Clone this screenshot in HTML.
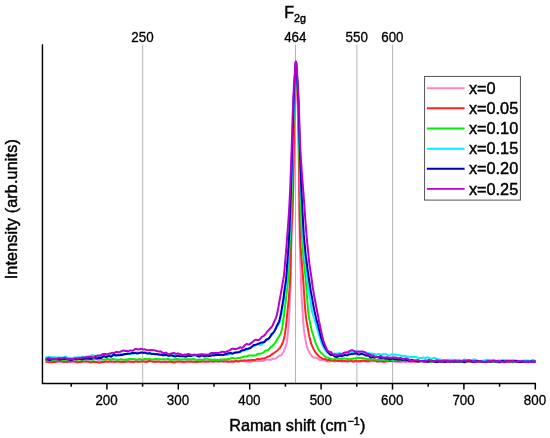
<!DOCTYPE html>
<html><head><meta charset="utf-8"><title>Raman spectra</title>
<style>
html,body{margin:0;padding:0;background:#fff;}
body{width:550px;height:438px;overflow:hidden;}
svg{display:block;}
text{font-family:"Liberation Sans",Arial,sans-serif;fill:#000;stroke:#000;stroke-width:0.3px;}
.t{font-size:14px;text-anchor:middle;}
.l{font-size:16px;stroke-width:0.45px;}
</style></head><body>
<svg width="550" height="438" viewBox="0 0 550 438">
<rect width="550" height="438" fill="#fff"/>

<line x1="142.7" y1="44.7" x2="142.7" y2="383.4" stroke="#b4b4b4" stroke-width="1"/>
<line x1="295.5" y1="44.7" x2="295.5" y2="383.4" stroke="#b4b4b4" stroke-width="1"/>
<line x1="356.9" y1="44.7" x2="356.9" y2="383.4" stroke="#b4b4b4" stroke-width="1"/>
<line x1="392.6" y1="44.7" x2="392.6" y2="383.4" stroke="#b4b4b4" stroke-width="1"/>
<path d="M45.5 361.1 L46.2 361.2 L46.9 361.4 L47.6 361.5 L48.4 361.4 L49.1 361.2 L49.8 361.2 L50.5 361.4 L51.2 361.5 L51.9 361.4 L52.6 361.3 L53.4 361.4 L54.1 361.6 L54.8 361.8 L55.5 361.7 L56.2 361.6 L56.9 361.6 L57.6 361.7 L58.4 361.9 L59.1 361.9 L59.8 361.9 L60.5 361.7 L61.2 361.6 L61.9 361.4 L62.6 361.4 L63.3 361.3 L64.1 361.3 L64.8 361.3 L65.5 361.4 L66.2 361.4 L66.9 361.5 L67.6 361.6 L68.3 361.6 L69.1 361.7 L69.8 361.5 L70.5 361.5 L71.2 361.4 L71.9 361.3 L72.6 361.4 L73.3 361.5 L74.1 361.6 L74.8 361.5 L75.5 361.4 L76.2 361.2 L76.9 361.1 L77.6 361.2 L78.3 361.5 L79.1 361.8 L79.8 361.9 L80.5 361.8 L81.2 361.8 L81.9 361.7 L82.6 361.6 L83.3 361.5 L84.1 361.4 L84.8 361.4 L85.5 361.4 L86.2 361.5 L86.9 361.5 L87.6 361.7 L88.3 361.7 L89.1 361.6 L89.8 361.6 L90.5 361.5 L91.2 361.4 L91.9 361.5 L92.6 361.6 L93.3 361.7 L94.1 361.8 L94.8 361.9 L95.5 362.0 L96.2 361.9 L96.9 361.7 L97.6 361.3 L98.3 361.1 L99.0 361.0 L99.8 361.2 L100.5 361.4 L101.2 361.6 L101.9 361.7 L102.6 361.5 L103.3 361.4 L104.0 361.3 L104.8 361.4 L105.5 361.4 L106.2 361.3 L106.9 361.4 L107.6 361.5 L108.3 361.6 L109.0 361.5 L109.8 361.6 L110.5 361.5 L111.2 361.6 L111.9 361.6 L112.6 361.7 L113.3 361.7 L114.0 361.7 L114.8 361.4 L115.5 361.2 L116.2 361.3 L116.9 361.5 L117.6 361.7 L118.3 361.9 L119.0 362.1 L119.8 362.2 L120.5 362.0 L121.2 361.6 L121.9 361.2 L122.6 361.1 L123.3 361.3 L124.0 361.5 L124.8 361.7 L125.5 361.7 L126.2 361.7 L126.9 361.6 L127.6 361.4 L128.3 361.3 L129.0 361.5 L129.8 361.6 L130.5 361.7 L131.2 361.5 L131.9 361.4 L132.6 361.4 L133.3 361.6 L134.0 361.8 L134.7 361.7 L135.5 361.6 L136.2 361.5 L136.9 361.5 L137.6 361.5 L138.3 361.6 L139.0 361.8 L139.7 361.8 L140.5 361.6 L141.2 361.3 L141.9 361.3 L142.6 361.3 L143.3 361.5 L144.0 361.5 L144.7 361.4 L145.5 361.2 L146.2 361.3 L146.9 361.4 L147.6 361.5 L148.3 361.6 L149.0 361.6 L149.7 361.6 L150.5 361.4 L151.2 361.2 L151.9 361.1 L152.6 361.3 L153.3 361.5 L154.0 361.6 L154.7 361.5 L155.5 361.2 L156.2 361.2 L156.9 361.2 L157.6 361.3 L158.3 361.4 L159.0 361.6 L159.7 361.9 L160.5 362.1 L161.2 362.2 L161.9 362.1 L162.6 361.9 L163.3 361.8 L164.0 361.6 L164.7 361.6 L165.5 361.4 L166.2 361.4 L166.9 361.4 L167.6 361.6 L168.3 361.5 L169.0 361.5 L169.7 361.3 L170.4 361.3 L171.2 361.4 L171.9 361.6 L172.6 361.6 L173.3 361.5 L174.0 361.2 L174.7 361.0 L175.4 361.1 L176.2 361.3 L176.9 361.5 L177.6 361.4 L178.3 361.2 L179.0 361.0 L179.7 360.9 L180.4 360.9 L181.2 361.1 L181.9 361.4 L182.6 361.6 L183.3 361.7 L184.0 361.8 L184.7 361.9 L185.4 361.9 L186.2 361.8 L186.9 361.5 L187.6 361.4 L188.3 361.3 L189.0 361.2 L189.7 361.0 L190.4 360.8 L191.2 360.9 L191.9 361.2 L192.6 361.6 L193.3 361.9 L194.0 361.8 L194.7 361.5 L195.4 361.2 L196.2 361.2 L196.9 361.3 L197.6 361.4 L198.3 361.3 L199.0 361.1 L199.7 361.1 L200.4 361.0 L201.2 361.2 L201.9 361.5 L202.6 361.6 L203.3 361.6 L204.0 361.4 L204.7 361.4 L205.4 361.5 L206.1 361.6 L206.9 361.5 L207.6 361.5 L208.3 361.5 L209.0 361.5 L209.7 361.3 L210.4 361.2 L211.1 361.3 L211.9 361.5 L212.6 361.7 L213.3 361.8 L214.0 362.0 L214.7 361.9 L215.4 361.7 L216.1 361.4 L216.9 361.2 L217.6 361.2 L218.3 361.2 L219.0 361.3 L219.7 361.4 L220.4 361.4 L221.1 361.4 L221.9 361.5 L222.6 361.7 L223.3 361.9 L224.0 361.8 L224.7 361.6 L225.4 361.4 L226.1 361.4 L226.9 361.6 L227.6 361.9 L228.3 362.0 L229.0 362.1 L229.7 361.9 L230.4 361.7 L231.1 361.6 L231.9 361.6 L232.6 361.7 L233.3 361.8 L234.0 361.9 L234.7 361.9 L235.4 361.9 L236.1 361.6 L236.9 361.4 L237.6 361.3 L238.3 361.5 L239.0 361.5 L239.7 361.4 L240.4 361.2 L241.1 361.1 L241.8 361.1 L242.6 361.2 L243.3 361.3 L244.0 361.4 L244.7 361.5 L245.4 361.6 L246.1 361.6 L246.8 361.6 L247.6 361.6 L248.3 361.7 L249.0 361.8 L249.7 361.7 L250.4 361.7 L251.1 361.5 L251.8 361.5 L252.6 361.2 L253.3 361.1 L254.0 360.9 L254.7 361.1 L255.4 361.0 L256.1 361.1 L256.8 361.1 L257.6 361.2 L258.3 361.1 L259.0 361.0 L259.7 360.9 L260.4 360.9 L261.1 360.9 L261.8 361.0 L262.6 361.0 L263.3 360.9 L264.0 360.7 L264.7 360.3 L265.4 360.0 L266.1 359.8 L266.8 359.6 L267.6 359.6 L268.3 359.6 L269.0 359.7 L269.7 359.9 L270.4 359.9 L271.1 359.7 L271.8 359.2 L272.6 358.9 L273.3 358.8 L274.0 358.8 L274.7 358.7 L275.4 358.6 L276.1 358.3 L276.8 357.8 L277.5 357.1 L278.3 356.4 L279.0 356.0 L279.7 355.6 L280.0 355.6 L280.4 355.5 L280.7 355.5 L281.1 355.2 L281.4 355.0 L281.8 354.4 L282.1 354.0 L282.5 353.3 L282.8 352.8 L283.2 352.2 L283.5 351.8 L283.9 351.1 L284.2 350.2 L284.6 349.3 L284.9 348.4 L285.3 347.5 L285.6 346.5 L286.0 345.6 L286.3 344.4 L286.7 342.9 L287.0 340.8 L287.4 338.2 L287.7 335.0 L288.1 331.5 L288.4 327.4 L288.8 322.6 L289.1 317.0 L289.5 309.6 L289.8 300.8 L290.2 292.6 L290.5 283.6 L290.9 268.2 L291.2 249.3 L291.6 235.1 L291.9 226.0 L292.3 218.7 L292.6 211.4 L293.0 201.6 L293.3 186.6 L293.7 167.0 L294.0 145.7 L294.4 124.9 L294.7 105.4 L295.1 91.9 L295.4 80.8 L295.8 70.2 L296.1 63.3 L296.5 69.6 L296.8 79.5 L297.2 89.1 L297.5 100.8 L297.9 113.3 L298.2 125.8 L298.6 142.9 L298.9 172.6 L299.3 204.2 L299.6 234.1 L300.0 249.7 L300.3 260.2 L300.7 272.3 L301.0 282.8 L301.4 291.6 L301.7 298.9 L302.1 304.9 L302.4 309.8 L302.8 314.6 L303.1 319.9 L303.5 325.0 L303.8 328.7 L304.2 331.6 L304.5 334.0 L304.9 336.3 L305.2 338.4 L305.6 340.5 L305.9 342.3 L306.3 343.9 L306.6 345.2 L307.0 346.4 L307.3 347.6 L307.7 348.8 L308.0 349.7 L308.4 350.4 L308.7 350.8 L309.1 351.6 L309.4 352.2 L309.8 353.2 L310.1 353.8 L310.5 354.3 L310.8 354.5 L311.2 355.0 L311.5 355.5 L311.9 356.1 L312.0 356.4 L312.7 357.0 L313.4 357.3 L314.1 357.4 L314.9 357.6 L315.6 357.8 L316.3 358.0 L317.0 358.2 L317.7 358.5 L318.4 358.9 L319.1 359.4 L319.9 359.9 L320.6 360.0 L321.3 360.1 L322.0 359.9 L322.7 360.0 L323.4 360.2 L324.1 360.4 L324.9 360.7 L325.6 361.0 L326.3 361.2 L327.0 361.3 L327.7 361.2 L328.4 361.2 L329.1 361.3 L329.8 361.4 L330.6 361.4 L331.3 361.2 L332.0 361.1 L332.7 361.1 L333.4 361.4 L334.1 361.6 L334.8 361.6 L335.6 361.4 L336.3 361.0 L337.0 361.0 L337.7 361.0 L338.4 361.2 L339.1 361.2 L339.8 361.0 L340.6 361.1 L341.3 361.3 L342.0 361.7 L342.7 361.6 L343.4 361.6 L344.1 361.5 L344.8 361.4 L345.6 361.2 L346.3 361.1 L347.0 361.3 L347.7 361.5 L348.4 361.4 L349.1 361.3 L349.8 361.1 L350.6 361.2 L351.3 361.3 L352.0 361.3 L352.7 361.4 L353.4 361.4 L354.1 361.5 L354.8 361.6 L355.6 361.7 L356.3 361.6 L357.0 361.5 L357.7 361.4 L358.4 361.5 L359.1 361.6 L359.8 361.7 L360.6 361.7 L361.3 361.6 L362.0 361.5 L362.7 361.4 L363.4 361.3 L364.1 361.3 L364.8 361.4 L365.5 361.6 L366.3 361.5 L367.0 361.5 L367.7 361.4 L368.4 361.4 L369.1 361.6 L369.8 361.5 L370.5 361.4 L371.3 361.2 L372.0 361.3 L372.7 361.2 L373.4 361.3 L374.1 361.1 L374.8 361.2 L375.5 361.1 L376.3 361.5 L377.0 361.6 L377.7 361.6 L378.4 361.4 L379.1 361.2 L379.8 361.2 L380.5 361.3 L381.3 361.5 L382.0 361.5 L382.7 361.7 L383.4 361.6 L384.1 361.5 L384.8 361.3 L385.5 361.4 L386.3 361.5 L387.0 361.6 L387.7 361.4 L388.4 361.4 L389.1 361.4 L389.8 361.4 L390.5 361.2 L391.3 361.1 L392.0 361.2 L392.7 361.3 L393.4 361.6 L394.1 361.7 L394.8 361.9 L395.5 362.1 L396.3 362.1 L397.0 362.1 L397.7 361.9 L398.4 361.8 L399.1 361.5 L399.8 361.5 L400.5 361.6 L401.2 361.8 L402.0 361.6 L402.7 361.4 L403.4 361.3 L404.1 361.3 L404.8 361.4 L405.5 361.6 L406.2 361.7 L407.0 361.6 L407.7 361.4 L408.4 361.5 L409.1 361.6 L409.8 361.8 L410.5 361.7 L411.2 361.7 L412.0 361.7 L412.7 361.8 L413.4 361.7 L414.1 361.6 L414.8 361.7 L415.5 361.8 L416.2 361.8 L417.0 361.4 L417.7 361.3 L418.4 361.2 L419.1 361.2 L419.8 361.2 L420.5 361.3 L421.2 361.5 L422.0 361.6 L422.7 361.7 L423.4 361.7 L424.1 361.8 L424.8 361.8 L425.5 361.8 L426.2 361.8 L427.0 361.7 L427.7 361.7 L428.4 361.6 L429.1 361.5 L429.8 361.3 L430.5 361.3 L431.2 361.5 L432.0 361.9 L432.7 362.1 L433.4 362.2 L434.1 361.9 L434.8 361.8 L435.5 361.6 L436.2 361.6 L436.9 361.6 L437.7 361.6 L438.4 361.6 L439.1 361.6 L439.8 361.6 L440.5 361.6 L441.2 361.6 L441.9 361.7 L442.7 361.7 L443.4 361.6 L444.1 361.6 L444.8 361.5 L445.5 361.5 L446.2 361.4 L446.9 361.3 L447.7 361.4 L448.4 361.5 L449.1 361.6 L449.8 361.6 L450.5 361.7 L451.2 361.9 L451.9 362.0 L452.7 362.0 L453.4 361.8 L454.1 361.8 L454.8 361.8 L455.5 361.9 L456.2 362.0 L456.9 361.9 L457.7 361.8 L458.4 361.5 L459.1 361.6 L459.8 361.7 L460.5 361.9 L461.2 361.6 L461.9 361.3 L462.7 361.1 L463.4 361.3 L464.1 361.4 L464.8 361.5 L465.5 361.3 L466.2 361.4 L466.9 361.4 L467.7 361.6 L468.4 361.7 L469.1 361.8 L469.8 361.7 L470.5 361.8 L471.2 361.6 L471.9 361.4 L472.6 361.2 L473.4 361.1 L474.1 361.3 L474.8 361.3 L475.5 361.3 L476.2 361.3 L476.9 361.3 L477.6 361.2 L478.4 361.2 L479.1 361.3 L479.8 361.5 L480.5 361.6 L481.2 361.8 L481.9 361.9 L482.6 361.9 L483.4 361.6 L484.1 361.3 L484.8 361.3 L485.5 361.5 L486.2 361.7 L486.9 361.7 L487.6 361.6 L488.4 361.6 L489.1 361.6 L489.8 361.7 L490.5 361.8 L491.2 361.9 L491.9 361.9 L492.6 361.9 L493.4 361.8 L494.1 361.8 L494.8 361.7 L495.5 361.7 L496.2 361.6 L496.9 361.6 L497.6 361.5 L498.4 361.4 L499.1 361.4 L499.8 361.2 L500.5 361.3 L501.2 361.1 L501.9 361.3 L502.6 361.5 L503.4 361.7 L504.1 361.7 L504.8 361.7 L505.5 361.9 L506.2 362.1 L506.9 362.0 L507.6 361.7 L508.3 361.4 L509.1 361.5 L509.8 361.8 L510.5 362.1 L511.2 361.9 L511.9 361.7 L512.6 361.6 L513.3 361.6 L514.1 361.5 L514.8 361.4 L515.5 361.4 L516.2 361.5 L516.9 361.5 L517.6 361.6 L518.3 361.6 L519.1 361.7 L519.8 361.6 L520.5 361.5 L521.2 361.4 L521.9 361.4 L522.6 361.2 L523.3 361.1 L524.1 361.1 L524.8 361.3 L525.5 361.6 L526.2 361.6 L526.9 361.6 L527.6 361.5 L528.3 361.4 L529.1 361.5 L529.8 361.7 L530.5 361.8 L531.2 361.8 L531.9 361.9 L532.6 362.0 L533.3 361.9 L534.1 361.7 L534.8 361.3 L535.5 361.3" fill="none" stroke="#ff82c8" stroke-width="2" stroke-linejoin="round" stroke-linecap="butt"/>
<path d="M45.5 361.8 L46.2 361.8 L46.9 361.7 L47.6 361.7 L48.4 362.0 L49.1 362.2 L49.8 362.3 L50.5 362.2 L51.2 362.2 L51.9 362.2 L52.6 362.3 L53.4 362.0 L54.1 362.0 L54.8 361.9 L55.5 362.0 L56.2 361.8 L56.9 361.6 L57.6 361.2 L58.4 360.9 L59.1 360.7 L59.8 360.7 L60.5 361.0 L61.2 361.3 L61.9 361.5 L62.6 361.7 L63.3 361.9 L64.1 361.9 L64.8 361.7 L65.5 361.8 L66.2 362.0 L66.9 362.1 L67.6 361.8 L68.3 361.4 L69.1 361.5 L69.8 361.6 L70.5 361.7 L71.2 361.6 L71.9 361.5 L72.6 361.3 L73.3 361.3 L74.1 361.4 L74.8 361.6 L75.5 361.9 L76.2 362.0 L76.9 362.2 L77.6 362.2 L78.3 362.2 L79.1 362.1 L79.8 362.1 L80.5 362.1 L81.2 362.0 L81.9 361.7 L82.6 361.4 L83.3 361.3 L84.1 361.4 L84.8 361.4 L85.5 361.5 L86.2 361.5 L86.9 361.6 L87.6 361.4 L88.3 361.6 L89.1 361.8 L89.8 362.2 L90.5 362.4 L91.2 362.3 L91.9 362.2 L92.6 362.1 L93.3 361.9 L94.1 361.9 L94.8 361.9 L95.5 362.0 L96.2 362.1 L96.9 362.2 L97.6 362.3 L98.3 362.5 L99.0 362.6 L99.8 362.6 L100.5 362.6 L101.2 362.2 L101.9 362.0 L102.6 362.0 L103.3 362.1 L104.0 362.0 L104.8 361.7 L105.5 361.4 L106.2 361.4 L106.9 361.7 L107.6 361.9 L108.3 361.8 L109.0 361.5 L109.8 361.5 L110.5 361.5 L111.2 361.7 L111.9 361.6 L112.6 361.5 L113.3 361.6 L114.0 361.8 L114.8 361.9 L115.5 361.8 L116.2 361.6 L116.9 361.5 L117.6 361.5 L118.3 361.5 L119.0 361.5 L119.8 361.6 L120.5 361.7 L121.2 362.0 L121.9 362.1 L122.6 362.1 L123.3 362.0 L124.0 362.0 L124.8 361.9 L125.5 361.6 L126.2 361.5 L126.9 361.6 L127.6 361.6 L128.3 361.6 L129.0 361.6 L129.8 361.7 L130.5 361.7 L131.2 361.7 L131.9 361.8 L132.6 361.9 L133.3 362.0 L134.0 361.8 L134.7 361.7 L135.5 361.4 L136.2 361.3 L136.9 361.4 L137.6 361.7 L138.3 361.8 L139.0 361.8 L139.7 361.6 L140.5 361.4 L141.2 361.4 L141.9 361.4 L142.6 361.3 L143.3 361.3 L144.0 361.4 L144.7 361.6 L145.5 361.8 L146.2 362.0 L146.9 361.8 L147.6 361.5 L148.3 361.2 L149.0 361.1 L149.7 361.1 L150.5 361.2 L151.2 361.2 L151.9 361.3 L152.6 361.6 L153.3 361.8 L154.0 361.9 L154.7 361.8 L155.5 361.7 L156.2 361.7 L156.9 361.7 L157.6 361.8 L158.3 361.6 L159.0 361.5 L159.7 361.6 L160.5 361.8 L161.2 361.8 L161.9 361.7 L162.6 361.7 L163.3 361.7 L164.0 361.7 L164.7 361.7 L165.5 361.9 L166.2 362.0 L166.9 362.0 L167.6 361.8 L168.3 361.8 L169.0 361.7 L169.7 361.7 L170.4 361.6 L171.2 361.8 L171.9 362.0 L172.6 362.2 L173.3 362.3 L174.0 362.4 L174.7 362.4 L175.4 362.2 L176.2 361.9 L176.9 361.7 L177.6 361.6 L178.3 361.6 L179.0 361.8 L179.7 361.8 L180.4 361.8 L181.2 361.6 L181.9 361.7 L182.6 361.9 L183.3 362.0 L184.0 362.0 L184.7 361.7 L185.4 361.7 L186.2 361.5 L186.9 361.5 L187.6 361.5 L188.3 361.6 L189.0 361.8 L189.7 361.8 L190.4 361.8 L191.2 361.7 L191.9 361.8 L192.6 361.7 L193.3 361.7 L194.0 361.7 L194.7 361.8 L195.4 361.9 L196.2 362.0 L196.9 362.1 L197.6 362.0 L198.3 361.8 L199.0 361.7 L199.7 361.8 L200.4 361.8 L201.2 361.7 L201.9 361.4 L202.6 361.3 L203.3 361.3 L204.0 361.4 L204.7 361.5 L205.4 361.7 L206.1 361.6 L206.9 361.6 L207.6 361.6 L208.3 361.6 L209.0 361.7 L209.7 361.4 L210.4 361.2 L211.1 361.2 L211.9 361.3 L212.6 361.5 L213.3 361.3 L214.0 361.1 L214.7 360.9 L215.4 361.1 L216.1 361.2 L216.9 361.3 L217.6 361.4 L218.3 361.5 L219.0 361.5 L219.7 361.3 L220.4 361.1 L221.1 361.1 L221.9 361.3 L222.6 361.2 L223.3 361.3 L224.0 361.2 L224.7 361.2 L225.4 361.3 L226.1 361.3 L226.9 361.4 L227.6 361.3 L228.3 361.4 L229.0 361.5 L229.7 361.6 L230.4 361.5 L231.1 361.4 L231.9 361.3 L232.6 361.4 L233.3 361.5 L234.0 361.4 L234.7 361.1 L235.4 360.9 L236.1 360.9 L236.9 361.0 L237.6 361.1 L238.3 361.4 L239.0 361.4 L239.7 361.1 L240.4 360.6 L241.1 360.4 L241.8 360.5 L242.6 360.7 L243.3 360.7 L244.0 360.4 L244.7 360.3 L245.4 360.4 L246.1 360.5 L246.8 360.5 L247.6 360.4 L248.3 360.3 L249.0 360.3 L249.7 360.3 L250.4 360.3 L251.1 360.1 L251.8 360.0 L252.6 359.9 L253.3 359.9 L254.0 359.9 L254.7 359.9 L255.4 359.8 L256.1 359.6 L256.8 359.2 L257.6 359.0 L258.3 359.0 L259.0 359.2 L259.7 359.3 L260.4 359.1 L261.1 358.8 L261.8 358.5 L262.6 358.4 L263.3 358.4 L264.0 358.5 L264.7 358.3 L265.4 357.9 L266.1 357.5 L266.8 357.0 L267.6 356.7 L268.3 356.4 L269.0 356.3 L269.7 356.1 L270.4 355.6 L271.1 355.0 L271.8 354.4 L272.6 353.9 L273.3 353.4 L274.0 353.0 L274.7 352.4 L275.4 352.0 L276.1 351.5 L276.8 351.0 L277.5 350.4 L278.3 349.6 L279.0 348.9 L279.7 348.2 L280.0 347.9 L280.4 347.3 L280.7 346.6 L281.1 345.9 L281.4 345.3 L281.8 344.7 L282.1 344.0 L282.5 343.2 L282.8 342.3 L283.2 341.3 L283.5 340.1 L283.9 338.8 L284.2 337.5 L284.6 335.9 L284.9 334.1 L285.3 331.7 L285.6 329.2 L286.0 326.4 L286.3 323.3 L286.7 319.6 L287.0 315.9 L287.4 312.4 L287.7 309.2 L288.1 306.1 L288.4 302.6 L288.8 298.7 L289.1 294.4 L289.5 289.7 L289.8 285.1 L290.2 279.0 L290.5 268.3 L290.9 252.9 L291.2 237.2 L291.6 228.0 L291.9 220.9 L292.3 214.6 L292.6 206.6 L293.0 194.5 L293.3 176.5 L293.7 154.8 L294.0 133.5 L294.4 112.1 L294.7 96.6 L295.1 85.6 L295.4 76.4 L295.8 66.4 L296.1 63.2 L296.5 69.2 L296.8 77.2 L297.2 84.6 L297.5 92.9 L297.9 103.1 L298.2 115.8 L298.6 131.6 L298.9 155.6 L299.3 188.8 L299.6 212.9 L300.0 231.6 L300.3 242.2 L300.7 248.2 L301.0 252.5 L301.4 256.5 L301.7 260.9 L302.1 265.4 L302.4 269.7 L302.8 274.2 L303.1 278.7 L303.5 283.8 L303.8 289.4 L304.2 295.3 L304.5 300.5 L304.9 305.3 L305.2 309.7 L305.6 313.5 L305.9 316.6 L306.3 319.2 L306.6 321.5 L307.0 323.5 L307.3 325.3 L307.7 327.3 L308.0 329.3 L308.4 331.3 L308.7 333.2 L309.1 335.1 L309.4 336.7 L309.8 338.2 L310.1 339.4 L310.5 340.9 L310.8 342.4 L311.2 343.6 L311.5 344.5 L311.9 345.2 L312.0 345.5 L312.7 347.3 L313.4 348.6 L314.1 350.0 L314.9 351.2 L315.6 352.4 L316.3 353.3 L317.0 354.3 L317.7 355.0 L318.4 355.8 L319.1 356.5 L319.9 357.0 L320.6 357.5 L321.3 357.9 L322.0 358.4 L322.7 358.8 L323.4 359.0 L324.1 359.0 L324.9 359.0 L325.6 359.2 L326.3 359.6 L327.0 360.1 L327.7 360.2 L328.4 360.0 L329.1 359.8 L329.8 360.0 L330.6 360.3 L331.3 360.5 L332.0 360.5 L332.7 360.7 L333.4 360.8 L334.1 360.8 L334.8 360.6 L335.6 360.4 L336.3 360.7 L337.0 360.8 L337.7 360.9 L338.4 360.9 L339.1 360.9 L339.8 361.1 L340.6 361.0 L341.3 361.0 L342.0 360.9 L342.7 360.8 L343.4 360.7 L344.1 360.8 L344.8 360.9 L345.6 361.1 L346.3 361.3 L347.0 361.3 L347.7 361.3 L348.4 361.1 L349.1 360.9 L349.8 360.8 L350.6 360.8 L351.3 361.0 L352.0 361.1 L352.7 361.4 L353.4 361.5 L354.1 361.4 L354.8 361.0 L355.6 360.7 L356.3 360.6 L357.0 360.9 L357.7 361.1 L358.4 361.3 L359.1 361.2 L359.8 361.1 L360.6 361.0 L361.3 361.0 L362.0 360.8 L362.7 360.6 L363.4 360.5 L364.1 360.7 L364.8 360.9 L365.5 361.1 L366.3 361.1 L367.0 361.1 L367.7 361.3 L368.4 361.3 L369.1 361.0 L369.8 360.5 L370.5 360.2 L371.3 360.3 L372.0 360.4 L372.7 360.6 L373.4 360.5 L374.1 360.5 L374.8 360.5 L375.5 360.8 L376.3 361.0 L377.0 361.3 L377.7 361.4 L378.4 361.4 L379.1 361.3 L379.8 361.2 L380.5 361.2 L381.3 361.2 L382.0 361.3 L382.7 361.5 L383.4 361.8 L384.1 361.8 L384.8 361.7 L385.5 361.4 L386.3 361.2 L387.0 361.1 L387.7 361.0 L388.4 360.9 L389.1 360.8 L389.8 361.0 L390.5 361.1 L391.3 361.2 L392.0 360.9 L392.7 360.6 L393.4 360.5 L394.1 360.5 L394.8 360.8 L395.5 360.9 L396.3 361.0 L397.0 361.0 L397.7 361.1 L398.4 361.2 L399.1 361.4 L399.8 361.5 L400.5 361.5 L401.2 361.4 L402.0 361.2 L402.7 361.1 L403.4 361.2 L404.1 361.4 L404.8 361.6 L405.5 361.6 L406.2 361.4 L407.0 361.1 L407.7 361.0 L408.4 361.2 L409.1 361.4 L409.8 361.6 L410.5 361.6 L411.2 361.5 L412.0 361.2 L412.7 361.2 L413.4 361.3 L414.1 361.4 L414.8 361.4 L415.5 361.5 L416.2 361.5 L417.0 361.6 L417.7 361.4 L418.4 361.1 L419.1 360.9 L419.8 361.0 L420.5 361.2 L421.2 361.1 L422.0 360.9 L422.7 360.8 L423.4 360.7 L424.1 361.0 L424.8 361.3 L425.5 361.5 L426.2 361.6 L427.0 361.6 L427.7 361.6 L428.4 361.5 L429.1 361.5 L429.8 361.1 L430.5 360.9 L431.2 360.9 L432.0 361.1 L432.7 361.5 L433.4 361.7 L434.1 362.0 L434.8 362.1 L435.5 362.2 L436.2 362.0 L436.9 361.9 L437.7 361.6 L438.4 361.6 L439.1 361.5 L439.8 361.7 L440.5 361.8 L441.2 361.9 L441.9 361.7 L442.7 361.6 L443.4 361.6 L444.1 361.6 L444.8 361.6 L445.5 361.5 L446.2 361.5 L446.9 361.4 L447.7 361.4 L448.4 361.4 L449.1 361.7 L449.8 362.0 L450.5 362.2 L451.2 362.1 L451.9 361.7 L452.7 361.3 L453.4 361.0 L454.1 361.0 L454.8 360.9 L455.5 360.9 L456.2 361.0 L456.9 361.2 L457.7 361.3 L458.4 361.4 L459.1 361.6 L459.8 361.7 L460.5 361.8 L461.2 361.6 L461.9 361.5 L462.7 361.1 L463.4 361.3 L464.1 361.4 L464.8 361.8 L465.5 362.0 L466.2 362.0 L466.9 361.9 L467.7 361.8 L468.4 361.7 L469.1 361.6 L469.8 361.3 L470.5 361.1 L471.2 361.1 L471.9 361.5 L472.6 361.9 L473.4 362.0 L474.1 361.8 L474.8 361.6 L475.5 361.4 L476.2 361.5 L476.9 361.5 L477.6 361.7 L478.4 361.6 L479.1 361.7 L479.8 361.7 L480.5 361.7 L481.2 361.8 L481.9 361.8 L482.6 361.7 L483.4 361.5 L484.1 361.5 L484.8 361.7 L485.5 362.0 L486.2 362.1 L486.9 362.0 L487.6 361.7 L488.4 361.2 L489.1 360.9 L489.8 361.0 L490.5 361.2 L491.2 361.3 L491.9 361.3 L492.6 361.4 L493.4 361.5 L494.1 361.4 L494.8 361.4 L495.5 361.5 L496.2 361.9 L496.9 362.1 L497.6 362.2 L498.4 362.3 L499.1 362.2 L499.8 362.2 L500.5 362.0 L501.2 362.0 L501.9 361.8 L502.6 361.7 L503.4 361.4 L504.1 361.3 L504.8 361.3 L505.5 361.5 L506.2 361.8 L506.9 362.0 L507.6 362.0 L508.3 362.0 L509.1 361.8 L509.8 361.8 L510.5 361.7 L511.2 361.9 L511.9 362.2 L512.6 362.3 L513.3 362.0 L514.1 361.6 L514.8 361.3 L515.5 361.3 L516.2 361.4 L516.9 361.5 L517.6 361.4 L518.3 361.2 L519.1 361.2 L519.8 361.3 L520.5 361.4 L521.2 361.5 L521.9 361.7 L522.6 361.8 L523.3 361.9 L524.1 361.9 L524.8 361.8 L525.5 361.5 L526.2 361.3 L526.9 361.2 L527.6 361.2 L528.3 361.2 L529.1 361.1 L529.8 361.3 L530.5 361.6 L531.2 361.8 L531.9 361.9 L532.6 361.8 L533.3 361.8 L534.1 361.8 L534.8 361.9 L535.5 361.9" fill="none" stroke="#ff2222" stroke-width="2" stroke-linejoin="round" stroke-linecap="butt"/>
<path d="M45.5 360.9 L46.2 360.7 L46.9 360.4 L47.6 360.4 L48.4 360.5 L49.1 360.5 L49.8 360.5 L50.5 360.2 L51.2 360.0 L51.9 359.9 L52.6 359.9 L53.4 359.9 L54.1 359.9 L54.8 359.9 L55.5 360.1 L56.2 359.9 L56.9 359.7 L57.6 359.6 L58.4 359.4 L59.1 359.4 L59.8 359.2 L60.5 359.4 L61.2 359.5 L61.9 360.0 L62.6 360.2 L63.3 360.3 L64.1 360.1 L64.8 359.8 L65.5 359.6 L66.2 359.5 L66.9 359.6 L67.6 359.9 L68.3 360.0 L69.1 359.9 L69.8 359.8 L70.5 359.7 L71.2 359.6 L71.9 359.5 L72.6 359.4 L73.3 359.3 L74.1 359.2 L74.8 359.2 L75.5 359.3 L76.2 359.6 L76.9 359.7 L77.6 359.7 L78.3 359.6 L79.1 359.4 L79.8 359.5 L80.5 359.5 L81.2 359.6 L81.9 359.6 L82.6 359.8 L83.3 359.9 L84.1 359.8 L84.8 359.6 L85.5 359.5 L86.2 359.4 L86.9 359.2 L87.6 359.2 L88.3 359.2 L89.1 359.5 L89.8 359.5 L90.5 359.5 L91.2 359.4 L91.9 359.7 L92.6 359.6 L93.3 359.7 L94.1 359.5 L94.8 359.6 L95.5 359.3 L96.2 359.3 L96.9 359.2 L97.6 359.2 L98.3 359.1 L99.0 359.0 L99.8 359.1 L100.5 359.2 L101.2 359.4 L101.9 359.4 L102.6 359.5 L103.3 359.6 L104.0 359.6 L104.8 359.7 L105.5 359.5 L106.2 359.1 L106.9 358.9 L107.6 358.9 L108.3 359.1 L109.0 359.2 L109.8 359.4 L110.5 359.5 L111.2 359.5 L111.9 359.2 L112.6 358.9 L113.3 358.8 L114.0 359.1 L114.8 359.4 L115.5 359.6 L116.2 359.6 L116.9 359.7 L117.6 359.8 L118.3 359.8 L119.0 359.6 L119.8 359.4 L120.5 359.2 L121.2 359.3 L121.9 359.4 L122.6 359.6 L123.3 359.7 L124.0 359.7 L124.8 359.7 L125.5 359.6 L126.2 359.7 L126.9 359.5 L127.6 359.4 L128.3 359.3 L129.0 359.2 L129.8 359.1 L130.5 359.0 L131.2 358.9 L131.9 358.9 L132.6 359.0 L133.3 359.0 L134.0 359.1 L134.7 359.2 L135.5 359.4 L136.2 359.6 L136.9 359.5 L137.6 359.5 L138.3 359.3 L139.0 359.3 L139.7 359.1 L140.5 359.2 L141.2 359.4 L141.9 359.6 L142.6 359.7 L143.3 359.4 L144.0 359.1 L144.7 359.0 L145.5 359.1 L146.2 359.1 L146.9 359.2 L147.6 359.3 L148.3 359.2 L149.0 358.9 L149.7 358.8 L150.5 359.1 L151.2 359.4 L151.9 359.6 L152.6 359.5 L153.3 359.5 L154.0 359.2 L154.7 359.2 L155.5 359.0 L156.2 358.9 L156.9 358.9 L157.6 359.1 L158.3 359.3 L159.0 359.3 L159.7 359.2 L160.5 359.2 L161.2 359.2 L161.9 359.3 L162.6 359.2 L163.3 359.2 L164.0 359.2 L164.7 359.4 L165.5 359.4 L166.2 359.4 L166.9 359.1 L167.6 358.9 L168.3 358.9 L169.0 359.1 L169.7 359.5 L170.4 359.7 L171.2 359.8 L171.9 359.7 L172.6 359.7 L173.3 359.5 L174.0 359.5 L174.7 359.2 L175.4 359.2 L176.2 359.1 L176.9 359.2 L177.6 359.1 L178.3 359.2 L179.0 359.2 L179.7 359.4 L180.4 359.4 L181.2 359.4 L181.9 359.4 L182.6 359.5 L183.3 359.5 L184.0 359.4 L184.7 359.3 L185.4 359.3 L186.2 359.3 L186.9 359.3 L187.6 359.3 L188.3 359.3 L189.0 359.1 L189.7 359.3 L190.4 359.2 L191.2 359.4 L191.9 359.3 L192.6 359.2 L193.3 359.1 L194.0 359.2 L194.7 359.3 L195.4 359.6 L196.2 359.8 L196.9 359.9 L197.6 359.8 L198.3 359.7 L199.0 359.6 L199.7 359.6 L200.4 359.6 L201.2 359.7 L201.9 359.7 L202.6 359.7 L203.3 359.6 L204.0 359.5 L204.7 359.2 L205.4 358.8 L206.1 358.4 L206.9 358.6 L207.6 358.8 L208.3 359.3 L209.0 359.4 L209.7 359.6 L210.4 359.6 L211.1 359.7 L211.9 359.7 L212.6 359.9 L213.3 359.8 L214.0 359.7 L214.7 359.6 L215.4 359.8 L216.1 359.8 L216.9 359.8 L217.6 359.8 L218.3 359.9 L219.0 359.9 L219.7 359.8 L220.4 359.7 L221.1 359.4 L221.9 359.5 L222.6 359.4 L223.3 359.4 L224.0 359.2 L224.7 359.2 L225.4 359.4 L226.1 359.4 L226.9 359.2 L227.6 359.1 L228.3 359.1 L229.0 359.2 L229.7 358.9 L230.4 358.6 L231.1 358.2 L231.9 358.0 L232.6 358.0 L233.3 358.1 L234.0 358.3 L234.7 358.4 L235.4 358.5 L236.1 358.4 L236.9 358.4 L237.6 358.1 L238.3 358.2 L239.0 357.9 L239.7 358.0 L240.4 357.7 L241.1 357.6 L241.8 357.3 L242.6 357.2 L243.3 356.8 L244.0 356.6 L244.7 356.4 L245.4 356.4 L246.1 356.4 L246.8 356.3 L247.6 356.1 L248.3 355.7 L249.0 355.5 L249.7 355.4 L250.4 355.6 L251.1 355.6 L251.8 355.6 L252.6 355.5 L253.3 355.4 L254.0 355.4 L254.7 355.5 L255.4 355.4 L256.1 355.2 L256.8 354.6 L257.6 354.1 L258.3 353.7 L259.0 353.7 L259.7 353.8 L260.4 353.7 L261.1 353.4 L261.8 353.2 L262.6 352.9 L263.3 352.6 L264.0 352.0 L264.7 351.3 L265.4 350.7 L266.1 350.4 L266.8 350.4 L267.6 350.2 L268.3 350.0 L269.0 349.3 L269.7 348.4 L270.4 347.3 L271.1 346.7 L271.8 346.2 L272.6 345.8 L273.3 345.0 L274.0 344.1 L274.7 343.3 L275.4 342.4 L276.1 341.4 L276.8 340.1 L277.5 338.9 L278.3 337.7 L279.0 336.5 L279.7 335.3 L280.0 334.8 L280.4 334.2 L280.7 333.3 L281.1 332.2 L281.4 331.0 L281.8 329.7 L282.1 327.9 L282.5 325.9 L282.8 323.6 L283.2 321.0 L283.5 318.5 L283.9 315.8 L284.2 313.3 L284.6 310.5 L284.9 307.8 L285.3 304.9 L285.6 302.1 L286.0 299.0 L286.3 295.9 L286.7 292.5 L287.0 289.1 L287.4 286.2 L287.7 283.3 L288.1 279.4 L288.4 273.2 L288.8 265.5 L289.1 257.5 L289.5 249.7 L289.8 241.8 L290.2 234.5 L290.5 227.1 L290.9 219.6 L291.2 211.2 L291.6 201.5 L291.9 188.5 L292.3 171.6 L292.6 153.2 L293.0 137.7 L293.3 125.7 L293.7 115.5 L294.0 105.5 L294.4 95.2 L294.7 86.4 L295.1 78.7 L295.4 71.1 L295.8 63.8 L296.1 62.2 L296.5 67.4 L296.8 74.8 L297.2 81.6 L297.5 88.9 L297.9 97.6 L298.2 108.5 L298.6 121.8 L298.9 136.0 L299.3 150.4 L299.6 165.6 L300.0 180.3 L300.3 193.3 L300.7 204.2 L301.0 214.3 L301.4 223.8 L301.7 232.2 L302.1 239.1 L302.4 244.6 L302.8 249.2 L303.1 253.2 L303.5 256.9 L303.8 260.6 L304.2 264.2 L304.5 267.7 L304.9 271.1 L305.2 274.6 L305.6 278.5 L305.9 282.6 L306.3 287.2 L306.6 291.7 L307.0 296.3 L307.3 300.7 L307.7 305.3 L308.0 309.5 L308.4 313.1 L308.7 315.8 L309.1 317.9 L309.4 319.7 L309.8 321.1 L310.1 322.8 L310.5 324.6 L310.8 326.6 L311.2 328.2 L311.5 329.7 L311.9 331.0 L312.0 331.4 L312.7 333.8 L313.4 335.9 L314.1 338.2 L314.9 340.6 L315.6 342.8 L316.3 344.6 L317.0 346.1 L317.7 347.7 L318.4 349.1 L319.1 350.5 L319.9 351.5 L320.6 352.4 L321.3 353.0 L322.0 353.6 L322.7 354.3 L323.4 355.1 L324.1 355.8 L324.9 356.3 L325.6 356.8 L326.3 357.2 L327.0 357.4 L327.7 357.6 L328.4 357.8 L329.1 358.1 L329.8 358.4 L330.6 358.6 L331.3 359.0 L332.0 359.3 L332.7 359.4 L333.4 359.3 L334.1 359.1 L334.8 359.1 L335.6 358.8 L336.3 358.6 L337.0 358.3 L337.7 358.5 L338.4 358.8 L339.1 358.9 L339.8 358.8 L340.6 358.8 L341.3 358.9 L342.0 358.9 L342.7 358.6 L343.4 358.5 L344.1 358.5 L344.8 358.6 L345.6 358.7 L346.3 358.8 L347.0 359.0 L347.7 359.1 L348.4 359.2 L349.1 359.2 L349.8 359.2 L350.6 359.2 L351.3 359.1 L352.0 359.0 L352.7 358.7 L353.4 358.5 L354.1 358.4 L354.8 358.4 L355.6 358.2 L356.3 358.0 L357.0 357.8 L357.7 357.9 L358.4 358.0 L359.1 358.1 L359.8 358.1 L360.6 358.1 L361.3 358.1 L362.0 358.0 L362.7 358.2 L363.4 358.3 L364.1 358.5 L364.8 358.6 L365.5 358.8 L366.3 358.9 L367.0 359.0 L367.7 359.0 L368.4 359.2 L369.1 359.2 L369.8 359.4 L370.5 359.5 L371.3 359.6 L372.0 359.5 L372.7 359.5 L373.4 359.4 L374.1 359.2 L374.8 359.1 L375.5 359.3 L376.3 359.7 L377.0 359.9 L377.7 359.8 L378.4 359.5 L379.1 359.4 L379.8 359.5 L380.5 359.7 L381.3 359.9 L382.0 360.0 L382.7 360.1 L383.4 360.0 L384.1 359.9 L384.8 359.7 L385.5 359.8 L386.3 360.0 L387.0 360.2 L387.7 360.1 L388.4 359.8 L389.1 359.7 L389.8 359.8 L390.5 360.0 L391.3 360.0 L392.0 360.0 L392.7 360.1 L393.4 360.2 L394.1 360.3 L394.8 360.2 L395.5 360.3 L396.3 360.5 L397.0 360.5 L397.7 360.2 L398.4 360.0 L399.1 360.0 L399.8 360.3 L400.5 360.6 L401.2 360.8 L402.0 360.9 L402.7 360.8 L403.4 360.7 L404.1 360.6 L404.8 360.7 L405.5 360.8 L406.2 360.9 L407.0 361.0 L407.7 361.0 L408.4 360.8 L409.1 360.5 L409.8 360.5 L410.5 360.5 L411.2 360.7 L412.0 360.8 L412.7 360.8 L413.4 360.5 L414.1 360.5 L414.8 360.4 L415.5 360.7 L416.2 360.9 L417.0 361.4 L417.7 361.6 L418.4 361.5 L419.1 361.3 L419.8 361.0 L420.5 361.2 L421.2 361.2 L422.0 361.2 L422.7 361.2 L423.4 361.2 L424.1 361.1 L424.8 360.8 L425.5 360.8 L426.2 360.8 L427.0 361.0 L427.7 360.9 L428.4 361.2 L429.1 361.4 L429.8 361.8 L430.5 362.0 L431.2 362.0 L432.0 361.9 L432.7 361.7 L433.4 361.4 L434.1 361.3 L434.8 361.2 L435.5 361.2 L436.2 361.1 L436.9 361.1 L437.7 361.1 L438.4 361.1 L439.1 361.2 L439.8 361.3 L440.5 361.2 L441.2 361.0 L441.9 360.9 L442.7 360.9 L443.4 361.1 L444.1 361.2 L444.8 361.3 L445.5 361.3 L446.2 361.1 L446.9 360.9 L447.7 360.8 L448.4 361.0 L449.1 361.3 L449.8 361.6 L450.5 361.8 L451.2 361.9 L451.9 361.8 L452.7 361.6 L453.4 361.4 L454.1 361.3 L454.8 361.4 L455.5 361.6 L456.2 361.7 L456.9 361.6 L457.7 361.4 L458.4 361.2 L459.1 361.3 L459.8 361.5 L460.5 361.7 L461.2 361.8 L461.9 361.8 L462.7 361.9 L463.4 361.8 L464.1 361.5 L464.8 361.3 L465.5 361.1 L466.2 361.3 L466.9 361.5 L467.7 361.6 L468.4 361.6 L469.1 361.4 L469.8 361.3 L470.5 361.2 L471.2 361.3 L471.9 361.3 L472.6 361.1 L473.4 361.0 L474.1 361.1 L474.8 361.4 L475.5 361.5 L476.2 361.3 L476.9 361.1 L477.6 361.1 L478.4 361.3 L479.1 361.3 L479.8 361.5 L480.5 361.6 L481.2 361.9 L481.9 361.9 L482.6 361.9 L483.4 361.8 L484.1 361.9 L484.8 361.9 L485.5 361.7 L486.2 361.7 L486.9 361.7 L487.6 361.6 L488.4 361.4 L489.1 361.4 L489.8 361.5 L490.5 361.6 L491.2 361.4 L491.9 361.2 L492.6 361.1 L493.4 361.5 L494.1 361.7 L494.8 361.8 L495.5 361.7 L496.2 361.6 L496.9 361.5 L497.6 361.4 L498.4 361.1 L499.1 361.0 L499.8 360.8 L500.5 360.9 L501.2 360.9 L501.9 361.1 L502.6 361.1 L503.4 361.0 L504.1 360.9 L504.8 360.9 L505.5 361.1 L506.2 361.1 L506.9 361.3 L507.6 361.1 L508.3 361.1 L509.1 361.1 L509.8 361.4 L510.5 361.6 L511.2 362.0 L511.9 362.1 L512.6 362.2 L513.3 361.9 L514.1 361.9 L514.8 361.7 L515.5 361.7 L516.2 361.8 L516.9 362.0 L517.6 362.0 L518.3 361.8 L519.1 361.9 L519.8 361.9 L520.5 361.9 L521.2 361.8 L521.9 361.7 L522.6 361.6 L523.3 361.5 L524.1 361.2 L524.8 361.1 L525.5 361.0 L526.2 361.3 L526.9 361.3 L527.6 361.4 L528.3 361.5 L529.1 361.6 L529.8 361.7 L530.5 361.8 L531.2 361.9 L531.9 361.9 L532.6 361.8 L533.3 361.5 L534.1 361.5 L534.8 361.5 L535.5 361.7" fill="none" stroke="#00f000" stroke-width="2" stroke-linejoin="round" stroke-linecap="butt"/>
<path d="M45.5 357.0 L46.2 357.1 L46.9 357.2 L47.6 357.3 L48.4 357.3 L49.1 357.0 L49.8 356.9 L50.5 356.9 L51.2 357.3 L51.9 357.3 L52.6 357.4 L53.4 357.2 L54.1 357.2 L54.8 357.2 L55.5 357.2 L56.2 357.3 L56.9 357.3 L57.6 357.4 L58.4 357.4 L59.1 357.5 L59.8 357.4 L60.5 357.4 L61.2 357.4 L61.9 357.6 L62.6 357.6 L63.3 357.3 L64.1 357.1 L64.8 356.7 L65.5 356.7 L66.2 356.7 L66.9 357.0 L67.6 357.5 L68.3 358.0 L69.1 358.0 L69.8 357.8 L70.5 357.8 L71.2 358.3 L71.9 358.7 L72.6 358.5 L73.3 357.8 L74.1 357.5 L74.8 357.4 L75.5 357.6 L76.2 357.6 L76.9 357.4 L77.6 357.3 L78.3 357.3 L79.1 357.4 L79.8 357.4 L80.5 357.5 L81.2 357.2 L81.9 356.9 L82.6 356.8 L83.3 357.0 L84.1 357.2 L84.8 357.1 L85.5 356.8 L86.2 356.6 L86.9 356.6 L87.6 356.5 L88.3 356.4 L89.1 356.2 L89.8 356.0 L90.5 355.7 L91.2 355.5 L91.9 355.3 L92.6 355.3 L93.3 355.3 L94.1 355.6 L94.8 356.0 L95.5 356.3 L96.2 356.2 L96.9 356.0 L97.6 355.9 L98.3 355.8 L99.0 355.9 L99.8 356.1 L100.5 356.2 L101.2 356.2 L101.9 356.0 L102.6 355.7 L103.3 355.6 L104.0 355.5 L104.8 355.7 L105.5 355.4 L106.2 355.4 L106.9 355.3 L107.6 355.4 L108.3 355.3 L109.0 355.5 L109.8 355.4 L110.5 355.4 L111.2 355.4 L111.9 355.6 L112.6 355.8 L113.3 355.7 L114.0 355.5 L114.8 355.1 L115.5 355.1 L116.2 355.2 L116.9 355.2 L117.6 354.9 L118.3 354.6 L119.0 354.3 L119.8 354.2 L120.5 353.9 L121.2 353.5 L121.9 353.4 L122.6 353.7 L123.3 354.4 L124.0 354.7 L124.8 354.9 L125.5 354.5 L126.2 354.1 L126.9 353.7 L127.6 353.6 L128.3 353.6 L129.0 353.7 L129.8 354.0 L130.5 354.1 L131.2 353.8 L131.9 353.7 L132.6 353.6 L133.3 353.8 L134.0 353.5 L134.7 353.0 L135.5 352.5 L136.2 352.4 L136.9 352.5 L137.6 352.6 L138.3 352.6 L139.0 352.7 L139.7 352.6 L140.5 352.5 L141.2 352.5 L141.9 352.7 L142.6 352.6 L143.3 352.4 L144.0 352.2 L144.7 352.2 L145.5 352.2 L146.2 352.7 L146.9 353.1 L147.6 353.5 L148.3 353.6 L149.0 353.6 L149.7 353.5 L150.5 353.3 L151.2 353.5 L151.9 353.6 L152.6 353.7 L153.3 353.5 L154.0 353.6 L154.7 354.0 L155.5 354.2 L156.2 354.2 L156.9 354.2 L157.6 354.1 L158.3 354.0 L159.0 353.9 L159.7 354.1 L160.5 354.4 L161.2 354.5 L161.9 354.5 L162.6 354.2 L163.3 354.0 L164.0 354.2 L164.7 354.4 L165.5 355.1 L166.2 355.2 L166.9 355.3 L167.6 355.0 L168.3 355.2 L169.0 355.6 L169.7 355.9 L170.4 355.8 L171.2 355.7 L171.9 355.9 L172.6 355.9 L173.3 355.7 L174.0 355.1 L174.7 354.9 L175.4 355.1 L176.2 355.4 L176.9 355.6 L177.6 355.7 L178.3 355.8 L179.0 356.0 L179.7 356.0 L180.4 355.8 L181.2 355.9 L181.9 356.1 L182.6 356.4 L183.3 356.1 L184.0 356.0 L184.7 355.8 L185.4 355.9 L186.2 355.9 L186.9 355.8 L187.6 355.8 L188.3 355.7 L189.0 355.7 L189.7 355.6 L190.4 355.7 L191.2 355.9 L191.9 355.9 L192.6 355.9 L193.3 355.6 L194.0 355.2 L194.7 355.0 L195.4 355.2 L196.2 355.6 L196.9 355.7 L197.6 355.6 L198.3 355.3 L199.0 355.5 L199.7 355.8 L200.4 355.8 L201.2 355.5 L201.9 355.3 L202.6 355.2 L203.3 355.1 L204.0 355.1 L204.7 355.2 L205.4 355.5 L206.1 355.6 L206.9 355.3 L207.6 354.9 L208.3 354.9 L209.0 355.2 L209.7 355.3 L210.4 355.2 L211.1 355.0 L211.9 355.0 L212.6 355.1 L213.3 355.0 L214.0 354.8 L214.7 354.5 L215.4 354.4 L216.1 354.4 L216.9 354.6 L217.6 354.6 L218.3 354.5 L219.0 354.6 L219.7 354.9 L220.4 355.1 L221.1 355.3 L221.9 355.2 L222.6 355.1 L223.3 354.6 L224.0 354.1 L224.7 354.0 L225.4 354.3 L226.1 354.8 L226.9 355.1 L227.6 355.0 L228.3 354.5 L229.0 353.9 L229.7 353.5 L230.4 353.2 L231.1 353.2 L231.9 353.1 L232.6 353.2 L233.3 353.1 L234.0 352.9 L234.7 352.3 L235.4 352.1 L236.1 352.1 L236.9 352.2 L237.6 352.0 L238.3 352.0 L239.0 352.2 L239.7 352.4 L240.4 352.3 L241.1 351.7 L241.8 351.1 L242.6 350.6 L243.3 350.6 L244.0 350.5 L244.7 350.4 L245.4 350.2 L246.1 350.1 L246.8 349.8 L247.6 349.3 L248.3 348.7 L249.0 348.2 L249.7 347.8 L250.4 347.3 L251.1 346.8 L251.8 346.4 L252.6 346.4 L253.3 346.4 L254.0 346.3 L254.7 345.8 L255.4 345.2 L256.1 344.7 L256.8 344.4 L257.6 344.3 L258.3 344.2 L259.0 344.4 L259.7 344.5 L260.4 344.9 L261.1 344.7 L261.8 344.2 L262.6 343.4 L263.3 342.7 L264.0 342.3 L264.7 341.9 L265.4 341.5 L266.1 341.0 L266.8 340.6 L267.6 340.0 L268.3 339.4 L269.0 338.4 L269.7 337.3 L270.4 336.5 L271.1 335.9 L271.8 335.3 L272.6 334.4 L273.3 333.3 L274.0 332.0 L274.7 330.6 L275.4 329.2 L276.1 328.1 L276.8 327.0 L277.5 326.0 L278.3 325.0 L279.0 324.0 L279.7 322.1 L280.0 320.8 L280.4 319.0 L280.7 317.4 L281.1 316.0 L281.4 314.3 L281.8 312.3 L282.1 309.9 L282.5 308.0 L282.8 306.0 L283.2 304.1 L283.5 301.6 L283.9 299.1 L284.2 296.2 L284.6 293.8 L284.9 291.5 L285.3 289.4 L285.6 286.7 L286.0 284.2 L286.3 281.7 L286.7 278.6 L287.0 274.6 L287.4 269.6 L287.7 264.6 L288.1 259.5 L288.4 254.8 L288.8 249.6 L289.1 243.7 L289.5 237.1 L289.8 229.9 L290.2 222.3 L290.5 213.7 L290.9 204.2 L291.2 193.4 L291.6 180.9 L291.9 167.1 L292.3 153.2 L292.6 140.2 L293.0 128.4 L293.3 117.4 L293.7 106.9 L294.0 97.1 L294.4 88.6 L294.7 81.9 L295.1 76.0 L295.4 69.5 L295.8 63.7 L296.1 62.3 L296.5 66.2 L296.8 72.7 L297.2 78.3 L297.5 84.1 L297.9 90.7 L298.2 99.3 L298.6 109.7 L298.9 122.2 L299.3 135.1 L299.6 146.9 L300.0 158.4 L300.3 169.4 L300.7 179.7 L301.0 189.1 L301.4 197.9 L301.7 206.4 L302.1 215.0 L302.4 223.0 L302.8 230.2 L303.1 236.5 L303.5 241.7 L303.8 246.3 L304.2 250.5 L304.5 254.5 L304.9 258.1 L305.2 261.1 L305.6 263.8 L305.9 266.2 L306.3 269.0 L306.6 271.6 L307.0 274.5 L307.3 277.6 L307.7 281.0 L308.0 284.4 L308.4 287.3 L308.7 289.9 L309.1 292.1 L309.4 294.6 L309.8 296.8 L310.1 299.2 L310.5 301.1 L310.8 303.3 L311.2 305.4 L311.5 307.5 L311.9 309.7 L312.0 310.6 L312.7 313.8 L313.4 316.2 L314.1 318.5 L314.9 320.8 L315.6 323.3 L316.3 325.6 L317.0 327.9 L317.7 330.2 L318.4 332.8 L319.1 335.3 L319.9 337.8 L320.6 340.0 L321.3 342.3 L322.0 344.2 L322.7 345.7 L323.4 347.0 L324.1 348.2 L324.9 349.4 L325.6 350.7 L326.3 351.8 L327.0 352.5 L327.7 352.6 L328.4 352.8 L329.1 352.8 L329.8 353.0 L330.6 353.2 L331.3 353.6 L332.0 353.8 L332.7 354.0 L333.4 353.9 L334.1 353.7 L334.8 353.5 L335.6 353.4 L336.3 353.5 L337.0 353.4 L337.7 353.4 L338.4 353.2 L339.1 353.1 L339.8 353.2 L340.6 353.5 L341.3 353.8 L342.0 354.0 L342.7 353.9 L343.4 353.5 L344.1 353.2 L344.8 353.0 L345.6 352.9 L346.3 352.7 L347.0 352.5 L347.7 352.3 L348.4 352.2 L349.1 352.0 L349.8 352.2 L350.6 352.3 L351.3 352.7 L352.0 352.4 L352.7 352.2 L353.4 351.7 L354.1 351.7 L354.8 351.7 L355.6 351.7 L356.3 351.6 L357.0 351.5 L357.7 351.6 L358.4 351.5 L359.1 351.4 L359.8 351.4 L360.6 351.6 L361.3 351.9 L362.0 352.0 L362.7 352.3 L363.4 352.3 L364.1 352.7 L364.8 352.7 L365.5 353.0 L366.3 352.9 L367.0 352.9 L367.7 353.0 L368.4 353.1 L369.1 353.3 L369.8 353.4 L370.5 353.5 L371.3 353.4 L372.0 353.6 L372.7 353.7 L373.4 354.0 L374.1 354.0 L374.8 354.1 L375.5 354.3 L376.3 354.5 L377.0 354.5 L377.7 354.3 L378.4 354.0 L379.1 354.0 L379.8 354.2 L380.5 354.6 L381.3 354.7 L382.0 354.4 L382.7 354.2 L383.4 354.2 L384.1 354.4 L384.8 354.3 L385.5 354.1 L386.3 354.3 L387.0 354.6 L387.7 355.1 L388.4 355.4 L389.1 355.5 L389.8 355.4 L390.5 355.0 L391.3 354.4 L392.0 354.2 L392.7 354.4 L393.4 354.7 L394.1 354.8 L394.8 354.6 L395.5 354.7 L396.3 354.7 L397.0 355.1 L397.7 355.3 L398.4 355.3 L399.1 355.3 L399.8 355.3 L400.5 355.5 L401.2 355.7 L402.0 355.8 L402.7 355.9 L403.4 356.1 L404.1 356.2 L404.8 356.1 L405.5 356.2 L406.2 356.2 L407.0 356.4 L407.7 356.4 L408.4 356.5 L409.1 356.9 L409.8 357.2 L410.5 357.3 L411.2 357.0 L412.0 356.9 L412.7 357.1 L413.4 357.1 L414.1 357.0 L414.8 356.7 L415.5 356.7 L416.2 356.8 L417.0 357.4 L417.7 358.1 L418.4 358.4 L419.1 358.4 L419.8 358.0 L420.5 358.0 L421.2 358.0 L422.0 358.0 L422.7 357.7 L423.4 357.6 L424.1 357.6 L424.8 358.0 L425.5 357.9 L426.2 357.8 L427.0 357.5 L427.7 357.4 L428.4 357.4 L429.1 357.7 L429.8 358.2 L430.5 358.8 L431.2 359.1 L432.0 358.8 L432.7 358.2 L433.4 357.9 L434.1 357.9 L434.8 358.1 L435.5 358.2 L436.2 358.6 L436.9 358.8 L437.7 359.2 L438.4 359.3 L439.1 359.6 L439.8 359.5 L440.5 359.7 L441.2 359.6 L441.9 359.8 L442.7 359.9 L443.4 360.0 L444.1 360.1 L444.8 360.0 L445.5 360.3 L446.2 360.1 L446.9 360.2 L447.7 359.8 L448.4 359.8 L449.1 359.7 L449.8 359.8 L450.5 359.8 L451.2 359.8 L451.9 359.7 L452.7 359.7 L453.4 359.8 L454.1 359.9 L454.8 360.1 L455.5 360.1 L456.2 360.1 L456.9 360.0 L457.7 359.9 L458.4 359.9 L459.1 359.7 L459.8 359.9 L460.5 360.1 L461.2 360.5 L461.9 360.5 L462.7 360.3 L463.4 360.0 L464.1 359.7 L464.8 359.5 L465.5 359.6 L466.2 359.9 L466.9 360.2 L467.7 360.4 L468.4 360.2 L469.1 360.2 L469.8 360.3 L470.5 360.5 L471.2 360.3 L471.9 360.2 L472.6 359.8 L473.4 359.5 L474.1 359.3 L474.8 359.4 L475.5 359.7 L476.2 359.9 L476.9 360.2 L477.6 360.6 L478.4 361.1 L479.1 361.1 L479.8 361.0 L480.5 361.0 L481.2 361.2 L481.9 361.2 L482.6 360.8 L483.4 360.5 L484.1 360.4 L484.8 360.4 L485.5 360.3 L486.2 360.0 L486.9 359.8 L487.6 359.8 L488.4 359.9 L489.1 359.9 L489.8 359.9 L490.5 360.0 L491.2 360.2 L491.9 360.2 L492.6 360.0 L493.4 359.7 L494.1 359.8 L494.8 360.1 L495.5 360.4 L496.2 360.7 L496.9 360.7 L497.6 360.6 L498.4 360.4 L499.1 360.3 L499.8 360.5 L500.5 360.8 L501.2 361.0 L501.9 361.0 L502.6 360.8 L503.4 360.5 L504.1 360.3 L504.8 360.2 L505.5 360.3 L506.2 360.1 L506.9 360.2 L507.6 360.1 L508.3 360.2 L509.1 360.2 L509.8 360.2 L510.5 360.3 L511.2 360.2 L511.9 360.2 L512.6 360.2 L513.3 360.1 L514.1 360.3 L514.8 360.2 L515.5 360.4 L516.2 360.4 L516.9 360.7 L517.6 360.8 L518.3 360.9 L519.1 360.8 L519.8 360.8 L520.5 360.8 L521.2 361.0 L521.9 360.7 L522.6 360.8 L523.3 360.6 L524.1 360.6 L524.8 360.6 L525.5 360.6 L526.2 360.6 L526.9 360.5 L527.6 360.6 L528.3 360.6 L529.1 360.7 L529.8 360.9 L530.5 360.9 L531.2 360.8 L531.9 360.2 L532.6 359.9 L533.3 359.9 L534.1 360.4 L534.8 360.6 L535.5 360.6" fill="none" stroke="#00f0ff" stroke-width="2" stroke-linejoin="round" stroke-linecap="butt"/>
<path d="M45.5 359.7 L46.2 359.3 L46.9 359.1 L47.6 359.2 L48.4 359.5 L49.1 360.0 L49.8 360.0 L50.5 359.8 L51.2 359.4 L51.9 359.2 L52.6 359.0 L53.4 358.9 L54.1 358.8 L54.8 358.7 L55.5 358.9 L56.2 359.0 L56.9 359.3 L57.6 359.3 L58.4 359.3 L59.1 359.3 L59.8 359.5 L60.5 359.6 L61.2 359.3 L61.9 359.1 L62.6 358.8 L63.3 359.0 L64.1 359.0 L64.8 359.0 L65.5 358.9 L66.2 359.1 L66.9 359.3 L67.6 359.2 L68.3 359.2 L69.1 359.4 L69.8 359.9 L70.5 360.1 L71.2 360.0 L71.9 359.7 L72.6 359.5 L73.3 359.2 L74.1 359.0 L74.8 359.0 L75.5 359.2 L76.2 359.2 L76.9 359.1 L77.6 358.8 L78.3 358.8 L79.1 358.8 L79.8 359.1 L80.5 359.1 L81.2 359.4 L81.9 359.3 L82.6 359.1 L83.3 358.8 L84.1 358.7 L84.8 358.5 L85.5 358.4 L86.2 358.4 L86.9 358.5 L87.6 358.6 L88.3 358.6 L89.1 358.6 L89.8 358.8 L90.5 358.8 L91.2 358.8 L91.9 358.6 L92.6 358.2 L93.3 357.7 L94.1 357.3 L94.8 357.2 L95.5 357.7 L96.2 358.2 L96.9 358.4 L97.6 358.2 L98.3 358.0 L99.0 357.7 L99.8 357.8 L100.5 357.9 L101.2 357.8 L101.9 357.6 L102.6 356.9 L103.3 356.5 L104.0 356.3 L104.8 356.6 L105.5 356.9 L106.2 357.0 L106.9 356.8 L107.6 356.4 L108.3 356.1 L109.0 355.8 L109.8 356.2 L110.5 356.5 L111.2 356.7 L111.9 356.1 L112.6 355.4 L113.3 354.7 L114.0 354.7 L114.8 354.9 L115.5 355.4 L116.2 355.4 L116.9 355.3 L117.6 355.1 L118.3 355.2 L119.0 355.2 L119.8 355.2 L120.5 355.0 L121.2 354.9 L121.9 354.9 L122.6 354.9 L123.3 354.6 L124.0 354.2 L124.8 354.0 L125.5 354.0 L126.2 354.0 L126.9 353.9 L127.6 353.8 L128.3 353.7 L129.0 353.8 L129.8 353.6 L130.5 353.4 L131.2 353.2 L131.9 353.1 L132.6 353.1 L133.3 353.0 L134.0 353.0 L134.7 352.9 L135.5 353.1 L136.2 353.2 L136.9 353.5 L137.6 353.6 L138.3 353.3 L139.0 353.1 L139.7 352.8 L140.5 352.8 L141.2 352.5 L141.9 352.6 L142.6 352.6 L143.3 352.9 L144.0 352.8 L144.7 352.8 L145.5 352.8 L146.2 353.2 L146.9 353.4 L147.6 353.6 L148.3 353.5 L149.0 353.3 L149.7 353.1 L150.5 353.5 L151.2 353.8 L151.9 354.1 L152.6 354.0 L153.3 354.1 L154.0 354.1 L154.7 354.3 L155.5 354.2 L156.2 354.1 L156.9 354.1 L157.6 354.3 L158.3 354.6 L159.0 354.8 L159.7 354.8 L160.5 354.8 L161.2 354.8 L161.9 354.9 L162.6 355.3 L163.3 355.3 L164.0 355.3 L164.7 354.9 L165.5 354.9 L166.2 354.8 L166.9 355.1 L167.6 355.4 L168.3 355.8 L169.0 355.8 L169.7 355.7 L170.4 355.4 L171.2 355.2 L171.9 355.3 L172.6 355.6 L173.3 355.9 L174.0 356.3 L174.7 356.5 L175.4 356.4 L176.2 356.2 L176.9 355.9 L177.6 355.8 L178.3 355.8 L179.0 356.2 L179.7 356.3 L180.4 356.3 L181.2 356.2 L181.9 356.2 L182.6 356.3 L183.3 356.2 L184.0 356.3 L184.7 356.4 L185.4 356.7 L186.2 356.7 L186.9 356.4 L187.6 355.9 L188.3 355.6 L189.0 355.7 L189.7 356.0 L190.4 356.1 L191.2 355.9 L191.9 355.4 L192.6 355.1 L193.3 354.7 L194.0 354.8 L194.7 354.6 L195.4 354.9 L196.2 355.2 L196.9 355.7 L197.6 356.0 L198.3 356.4 L199.0 356.6 L199.7 356.5 L200.4 356.1 L201.2 355.5 L201.9 355.4 L202.6 355.4 L203.3 355.9 L204.0 356.2 L204.7 356.4 L205.4 356.1 L206.1 355.9 L206.9 355.7 L207.6 355.9 L208.3 356.1 L209.0 356.1 L209.7 356.0 L210.4 355.8 L211.1 355.6 L211.9 355.4 L212.6 355.3 L213.3 355.3 L214.0 355.4 L214.7 355.3 L215.4 355.2 L216.1 354.9 L216.9 354.9 L217.6 354.9 L218.3 355.0 L219.0 355.1 L219.7 355.0 L220.4 354.8 L221.1 354.7 L221.9 354.8 L222.6 354.9 L223.3 355.1 L224.0 354.8 L224.7 354.5 L225.4 354.2 L226.1 354.0 L226.9 353.8 L227.6 353.4 L228.3 353.3 L229.0 353.3 L229.7 353.3 L230.4 353.0 L231.1 353.2 L231.9 353.5 L232.6 353.7 L233.3 353.4 L234.0 353.1 L234.7 352.8 L235.4 352.7 L236.1 352.5 L236.9 352.5 L237.6 352.4 L238.3 352.3 L239.0 352.1 L239.7 351.8 L240.4 351.4 L241.1 350.8 L241.8 350.4 L242.6 350.2 L243.3 350.2 L244.0 350.1 L244.7 349.7 L245.4 349.2 L246.1 348.9 L246.8 348.8 L247.6 348.7 L248.3 348.7 L249.0 348.5 L249.7 348.3 L250.4 347.9 L251.1 347.6 L251.8 346.9 L252.6 346.1 L253.3 345.3 L254.0 344.9 L254.7 344.9 L255.4 344.8 L256.1 344.7 L256.8 344.4 L257.6 344.1 L258.3 343.7 L259.0 343.5 L259.7 343.2 L260.4 342.8 L261.1 342.6 L261.8 342.4 L262.6 342.4 L263.3 342.3 L264.0 342.2 L264.7 341.5 L265.4 340.5 L266.1 339.7 L266.8 339.2 L267.6 339.1 L268.3 338.8 L269.0 338.2 L269.7 337.3 L270.4 336.2 L271.1 335.0 L271.8 333.9 L272.6 333.3 L273.3 332.6 L274.0 331.9 L274.7 330.6 L275.4 329.3 L276.1 327.6 L276.8 325.9 L277.5 324.4 L278.3 323.1 L279.0 321.6 L279.7 319.2 L280.0 317.9 L280.4 316.1 L280.7 314.5 L281.1 312.7 L281.4 310.9 L281.8 308.8 L282.1 306.7 L282.5 304.3 L282.8 302.4 L283.2 300.2 L283.5 298.0 L283.9 295.1 L284.2 292.1 L284.6 289.2 L284.9 286.7 L285.3 284.5 L285.6 282.5 L286.0 279.7 L286.3 276.0 L286.7 271.4 L287.0 266.5 L287.4 261.6 L287.7 256.9 L288.1 252.3 L288.4 247.2 L288.8 241.6 L289.1 235.3 L289.5 228.3 L289.8 220.5 L290.2 211.6 L290.5 202.3 L290.9 192.6 L291.2 181.8 L291.6 170.2 L291.9 157.7 L292.3 145.4 L292.6 133.7 L293.0 122.3 L293.3 111.2 L293.7 100.8 L294.0 91.5 L294.4 84.5 L294.7 78.6 L295.1 73.1 L295.4 66.7 L295.8 62.2 L296.1 62.6 L296.5 67.3 L296.8 73.3 L297.2 78.6 L297.5 83.8 L297.9 89.9 L298.2 97.3 L298.6 106.6 L298.9 118.5 L299.3 131.3 L299.6 142.6 L300.0 152.8 L300.3 162.3 L300.7 171.3 L301.0 179.8 L301.4 188.2 L301.7 196.0 L302.1 203.3 L302.4 210.1 L302.8 216.7 L303.1 223.3 L303.5 229.6 L303.8 234.9 L304.2 239.3 L304.5 242.8 L304.9 246.4 L305.2 250.0 L305.6 253.5 L305.9 256.7 L306.3 259.4 L306.6 262.0 L307.0 264.7 L307.3 267.6 L307.7 270.3 L308.0 272.6 L308.4 274.8 L308.7 277.2 L309.1 279.7 L309.4 282.1 L309.8 284.2 L310.1 286.7 L310.5 288.9 L310.8 291.4 L311.2 293.1 L311.5 294.9 L311.9 296.6 L312.0 297.6 L312.7 301.6 L313.4 305.6 L314.1 309.2 L314.9 312.7 L315.6 315.9 L316.3 318.9 L317.0 321.5 L317.7 324.1 L318.4 326.7 L319.1 329.6 L319.9 332.7 L320.6 335.5 L321.3 338.1 L322.0 340.3 L322.7 342.4 L323.4 344.2 L324.1 345.8 L324.9 347.2 L325.6 348.5 L326.3 349.6 L327.0 350.8 L327.7 351.8 L328.4 352.8 L329.1 353.6 L329.8 354.4 L330.6 354.9 L331.3 355.0 L332.0 355.0 L332.7 354.9 L333.4 355.3 L334.1 356.0 L334.8 356.6 L335.6 356.7 L336.3 356.9 L337.0 356.8 L337.7 356.7 L338.4 356.2 L339.1 355.8 L339.8 355.8 L340.6 356.0 L341.3 356.2 L342.0 356.0 L342.7 355.9 L343.4 355.5 L344.1 355.3 L344.8 355.1 L345.6 355.1 L346.3 355.3 L347.0 355.4 L347.7 355.2 L348.4 354.7 L349.1 354.4 L349.8 354.3 L350.6 354.2 L351.3 354.1 L352.0 354.0 L352.7 354.0 L353.4 353.8 L354.1 353.7 L354.8 353.5 L355.6 353.4 L356.3 353.3 L357.0 353.6 L357.7 354.1 L358.4 354.5 L359.1 354.5 L359.8 354.3 L360.6 354.0 L361.3 354.0 L362.0 354.1 L362.7 354.1 L363.4 354.4 L364.1 354.6 L364.8 355.0 L365.5 355.3 L366.3 355.7 L367.0 355.5 L367.7 355.4 L368.4 355.5 L369.1 356.2 L369.8 356.9 L370.5 357.5 L371.3 357.5 L372.0 357.3 L372.7 357.2 L373.4 357.3 L374.1 357.2 L374.8 357.2 L375.5 357.0 L376.3 357.1 L377.0 356.9 L377.7 356.9 L378.4 356.9 L379.1 357.4 L379.8 357.8 L380.5 358.1 L381.3 358.0 L382.0 357.9 L382.7 357.6 L383.4 357.8 L384.1 357.9 L384.8 358.4 L385.5 358.6 L386.3 358.5 L387.0 358.4 L387.7 358.5 L388.4 359.0 L389.1 359.2 L389.8 359.5 L390.5 359.2 L391.3 358.8 L392.0 358.5 L392.7 358.5 L393.4 358.9 L394.1 359.1 L394.8 359.3 L395.5 359.2 L396.3 359.1 L397.0 359.2 L397.7 359.6 L398.4 359.7 L399.1 359.6 L399.8 359.3 L400.5 359.4 L401.2 359.6 L402.0 359.9 L402.7 359.8 L403.4 359.7 L404.1 359.5 L404.8 359.6 L405.5 359.9 L406.2 360.0 L407.0 360.3 L407.7 360.4 L408.4 360.6 L409.1 360.7 L409.8 360.7 L410.5 360.4 L411.2 360.0 L412.0 359.8 L412.7 360.1 L413.4 360.6 L414.1 361.0 L414.8 360.9 L415.5 360.9 L416.2 360.9 L417.0 361.3 L417.7 361.4 L418.4 361.4 L419.1 361.4 L419.8 361.4 L420.5 361.2 L421.2 361.1 L422.0 361.0 L422.7 361.2 L423.4 361.3 L424.1 361.4 L424.8 361.5 L425.5 361.4 L426.2 361.5 L427.0 361.6 L427.7 361.8 L428.4 361.8 L429.1 361.5 L429.8 361.1 L430.5 360.8 L431.2 360.8 L432.0 361.0 L432.7 360.9 L433.4 361.2 L434.1 361.3 L434.8 361.7 L435.5 361.7 L436.2 362.0 L436.9 362.0 L437.7 362.0 L438.4 361.6 L439.1 361.4 L439.8 361.3 L440.5 361.6 L441.2 361.6 L441.9 361.6 L442.7 361.4 L443.4 361.5 L444.1 361.8 L444.8 362.0 L445.5 361.7 L446.2 361.5 L446.9 361.2 L447.7 361.4 L448.4 361.4 L449.1 361.6 L449.8 361.5 L450.5 361.4 L451.2 361.4 L451.9 361.4 L452.7 361.5 L453.4 361.7 L454.1 361.8 L454.8 361.6 L455.5 361.4 L456.2 361.5 L456.9 361.6 L457.7 361.7 L458.4 361.4 L459.1 361.4 L459.8 361.2 L460.5 361.4 L461.2 361.3 L461.9 361.5 L462.7 361.6 L463.4 361.9 L464.1 362.2 L464.8 362.2 L465.5 361.8 L466.2 361.2 L466.9 360.7 L467.7 360.8 L468.4 360.9 L469.1 360.9 L469.8 360.7 L470.5 360.7 L471.2 361.1 L471.9 361.6 L472.6 361.7 L473.4 361.8 L474.1 361.6 L474.8 361.7 L475.5 361.5 L476.2 361.2 L476.9 361.1 L477.6 361.1 L478.4 361.2 L479.1 361.1 L479.8 361.3 L480.5 361.4 L481.2 361.7 L481.9 361.5 L482.6 361.7 L483.4 361.9 L484.1 362.0 L484.8 362.0 L485.5 361.7 L486.2 361.8 L486.9 361.5 L487.6 361.5 L488.4 361.2 L489.1 361.6 L489.8 361.6 L490.5 361.8 L491.2 361.4 L491.9 361.3 L492.6 360.8 L493.4 360.9 L494.1 361.1 L494.8 361.5 L495.5 361.6 L496.2 361.4 L496.9 361.3 L497.6 361.2 L498.4 361.6 L499.1 361.9 L499.8 362.0 L500.5 361.6 L501.2 360.9 L501.9 360.6 L502.6 360.7 L503.4 361.2 L504.1 361.4 L504.8 361.4 L505.5 361.3 L506.2 361.1 L506.9 361.0 L507.6 360.9 L508.3 360.9 L509.1 361.2 L509.8 361.3 L510.5 361.2 L511.2 361.0 L511.9 361.0 L512.6 361.2 L513.3 361.4 L514.1 361.3 L514.8 361.0 L515.5 360.9 L516.2 361.0 L516.9 361.3 L517.6 361.5 L518.3 361.8 L519.1 362.0 L519.8 362.1 L520.5 362.1 L521.2 362.0 L521.9 361.9 L522.6 361.7 L523.3 361.5 L524.1 361.5 L524.8 361.7 L525.5 361.7 L526.2 361.8 L526.9 361.5 L527.6 361.5 L528.3 361.5 L529.1 361.8 L529.8 361.8 L530.5 361.5 L531.2 361.3 L531.9 361.2 L532.6 361.6 L533.3 361.7 L534.1 361.6 L534.8 361.5 L535.5 361.6" fill="none" stroke="#0000bc" stroke-width="2" stroke-linejoin="round" stroke-linecap="butt"/>
<path d="M45.5 359.3 L46.2 359.2 L46.9 358.8 L47.6 358.3 L48.4 358.0 L49.1 358.1 L49.8 358.4 L50.5 358.7 L51.2 358.7 L51.9 358.6 L52.6 358.7 L53.4 358.9 L54.1 359.2 L54.8 359.2 L55.5 359.1 L56.2 359.1 L56.9 358.8 L57.6 358.5 L58.4 358.1 L59.1 358.2 L59.8 358.4 L60.5 358.3 L61.2 358.3 L61.9 358.3 L62.6 358.5 L63.3 358.3 L64.1 357.9 L64.8 357.7 L65.5 358.1 L66.2 358.4 L66.9 358.9 L67.6 359.2 L68.3 359.5 L69.1 359.4 L69.8 359.1 L70.5 358.9 L71.2 358.9 L71.9 359.2 L72.6 359.4 L73.3 359.3 L74.1 359.0 L74.8 358.5 L75.5 358.2 L76.2 358.2 L76.9 358.4 L77.6 358.6 L78.3 358.4 L79.1 358.1 L79.8 358.0 L80.5 358.0 L81.2 357.9 L81.9 357.6 L82.6 357.4 L83.3 357.5 L84.1 357.6 L84.8 357.7 L85.5 357.4 L86.2 357.2 L86.9 357.1 L87.6 357.2 L88.3 357.1 L89.1 357.1 L89.8 357.0 L90.5 357.0 L91.2 356.8 L91.9 357.1 L92.6 357.5 L93.3 357.8 L94.1 357.3 L94.8 356.7 L95.5 356.1 L96.2 355.9 L96.9 355.7 L97.6 355.6 L98.3 355.5 L99.0 355.4 L99.8 355.6 L100.5 355.6 L101.2 355.2 L101.9 354.5 L102.6 354.1 L103.3 353.9 L104.0 354.1 L104.8 354.0 L105.5 354.1 L106.2 354.2 L106.9 354.3 L107.6 354.1 L108.3 353.9 L109.0 353.7 L109.8 353.5 L110.5 353.5 L111.2 353.2 L111.9 352.8 L112.6 352.7 L113.3 352.9 L114.0 353.0 L114.8 352.7 L115.5 352.2 L116.2 351.9 L116.9 351.9 L117.6 352.1 L118.3 352.2 L119.0 352.1 L119.8 351.9 L120.5 351.6 L121.2 351.3 L121.9 351.1 L122.6 350.7 L123.3 350.6 L124.0 350.5 L124.8 351.0 L125.5 350.8 L126.2 351.0 L126.9 350.9 L127.6 351.3 L128.3 351.2 L129.0 350.9 L129.8 350.5 L130.5 350.4 L131.2 350.4 L131.9 350.7 L132.6 350.7 L133.3 350.5 L134.0 349.9 L134.7 349.4 L135.5 348.9 L136.2 348.9 L136.9 349.1 L137.6 349.3 L138.3 349.5 L139.0 349.4 L139.7 349.2 L140.5 349.0 L141.2 348.8 L141.9 349.1 L142.6 349.3 L143.3 349.4 L144.0 349.3 L144.7 349.2 L145.5 349.6 L146.2 349.9 L146.9 350.2 L147.6 350.2 L148.3 350.3 L149.0 350.3 L149.7 350.2 L150.5 350.1 L151.2 350.2 L151.9 350.1 L152.6 350.2 L153.3 350.2 L154.0 350.3 L154.7 350.3 L155.5 350.7 L156.2 350.8 L156.9 351.1 L157.6 351.2 L158.3 351.4 L159.0 351.5 L159.7 351.4 L160.5 351.3 L161.2 351.7 L161.9 352.2 L162.6 352.7 L163.3 352.9 L164.0 352.9 L164.7 352.9 L165.5 352.7 L166.2 352.7 L166.9 353.2 L167.6 353.8 L168.3 354.2 L169.0 354.2 L169.7 354.0 L170.4 353.7 L171.2 353.5 L171.9 353.3 L172.6 353.4 L173.3 353.1 L174.0 353.1 L174.7 353.2 L175.4 353.6 L176.2 353.8 L176.9 353.7 L177.6 353.5 L178.3 353.5 L179.0 353.8 L179.7 353.9 L180.4 354.1 L181.2 354.3 L181.9 354.8 L182.6 354.9 L183.3 354.8 L184.0 354.6 L184.7 354.6 L185.4 354.7 L186.2 354.5 L186.9 354.4 L187.6 354.1 L188.3 354.0 L189.0 354.2 L189.7 354.3 L190.4 354.7 L191.2 354.8 L191.9 355.1 L192.6 355.0 L193.3 355.3 L194.0 355.2 L194.7 355.2 L195.4 354.9 L196.2 355.0 L196.9 354.8 L197.6 354.8 L198.3 354.6 L199.0 354.7 L199.7 354.4 L200.4 354.3 L201.2 354.2 L201.9 354.3 L202.6 354.3 L203.3 354.4 L204.0 354.5 L204.7 354.6 L205.4 354.7 L206.1 354.6 L206.9 354.6 L207.6 354.7 L208.3 354.7 L209.0 354.4 L209.7 353.9 L210.4 353.4 L211.1 353.1 L211.9 353.0 L212.6 353.1 L213.3 353.1 L214.0 353.2 L214.7 353.0 L215.4 352.9 L216.1 352.8 L216.9 353.1 L217.6 353.1 L218.3 353.1 L219.0 352.7 L219.7 352.6 L220.4 352.3 L221.1 352.3 L221.9 351.7 L222.6 351.7 L223.3 351.8 L224.0 352.1 L224.7 352.1 L225.4 352.0 L226.1 351.8 L226.9 351.5 L227.6 351.1 L228.3 350.8 L229.0 350.6 L229.7 350.4 L230.4 349.9 L231.1 349.4 L231.9 348.9 L232.6 348.7 L233.3 348.6 L234.0 348.9 L234.7 348.9 L235.4 349.1 L236.1 348.9 L236.9 348.8 L237.6 348.5 L238.3 348.2 L239.0 347.8 L239.7 347.5 L240.4 347.3 L241.1 347.6 L241.8 347.8 L242.6 347.7 L243.3 347.1 L244.0 346.2 L244.7 345.5 L245.4 344.6 L246.1 344.3 L246.8 343.9 L247.6 344.3 L248.3 344.5 L249.0 344.6 L249.7 344.1 L250.4 343.6 L251.1 343.1 L251.8 342.6 L252.6 342.0 L253.3 341.4 L254.0 340.7 L254.7 340.1 L255.4 339.8 L256.1 339.8 L256.8 340.0 L257.6 340.1 L258.3 340.2 L259.0 339.8 L259.7 339.4 L260.4 338.6 L261.1 337.8 L261.8 337.1 L262.6 336.4 L263.3 336.1 L264.0 335.7 L264.7 335.1 L265.4 334.2 L266.1 333.2 L266.8 332.2 L267.6 331.2 L268.3 330.4 L269.0 329.7 L269.7 329.0 L270.4 328.2 L271.1 327.5 L271.8 326.6 L272.6 325.5 L273.3 323.9 L274.0 322.2 L274.7 320.6 L275.4 319.2 L276.1 317.3 L276.8 315.0 L277.5 311.7 L278.3 307.9 L279.0 303.7 L279.7 299.8 L280.0 298.2 L280.4 296.3 L280.7 294.2 L281.1 292.1 L281.4 290.1 L281.8 288.3 L282.1 286.2 L282.5 284.1 L282.8 282.0 L283.2 280.0 L283.5 277.9 L283.9 275.7 L284.2 272.7 L284.6 268.9 L284.9 264.6 L285.3 260.6 L285.6 256.4 L286.0 252.4 L286.3 248.0 L286.7 243.6 L287.0 238.9 L287.4 234.4 L287.7 229.9 L288.1 225.2 L288.4 220.3 L288.8 214.9 L289.1 209.4 L289.5 203.2 L289.8 196.2 L290.2 188.2 L290.5 179.5 L290.9 170.5 L291.2 160.9 L291.6 150.5 L291.9 139.8 L292.3 128.6 L292.6 117.1 L293.0 106.8 L293.3 98.0 L293.7 90.7 L294.0 84.7 L294.4 79.8 L294.7 74.9 L295.1 69.7 L295.4 64.4 L295.8 61.4 L296.1 61.6 L296.5 65.3 L296.8 70.4 L297.2 75.5 L297.5 80.3 L297.9 85.7 L298.2 91.9 L298.6 99.2 L298.9 107.9 L299.3 119.3 L299.6 131.5 L300.0 141.3 L300.3 148.7 L300.7 154.8 L301.0 160.3 L301.4 165.3 L301.7 170.3 L302.1 175.3 L302.4 180.2 L302.8 184.8 L303.1 189.0 L303.5 193.3 L303.8 198.0 L304.2 203.1 L304.5 208.4 L304.9 213.4 L305.2 218.4 L305.6 222.9 L305.9 227.4 L306.3 231.7 L306.6 235.9 L307.0 239.8 L307.3 243.7 L307.7 247.3 L308.0 250.6 L308.4 253.7 L308.7 257.2 L309.1 260.7 L309.4 263.9 L309.8 266.6 L310.1 268.8 L310.5 271.1 L310.8 273.5 L311.2 275.8 L311.5 278.3 L311.9 280.7 L312.0 282.0 L312.7 287.0 L313.4 291.4 L314.1 295.4 L314.9 299.5 L315.6 303.3 L316.3 307.3 L317.0 310.5 L317.7 314.1 L318.4 317.7 L319.1 321.7 L319.9 325.3 L320.6 328.6 L321.3 331.8 L322.0 334.9 L322.7 338.1 L323.4 340.7 L324.1 342.9 L324.9 344.5 L325.6 346.3 L326.3 348.0 L327.0 349.6 L327.7 350.7 L328.4 351.4 L329.1 351.8 L329.8 351.7 L330.6 351.9 L331.3 352.4 L332.0 353.4 L332.7 354.1 L333.4 354.6 L334.1 354.5 L334.8 354.5 L335.6 354.6 L336.3 354.8 L337.0 355.0 L337.7 354.9 L338.4 354.8 L339.1 354.4 L339.8 354.3 L340.6 354.2 L341.3 354.3 L342.0 354.0 L342.7 353.6 L343.4 353.0 L344.1 352.8 L344.8 352.5 L345.6 352.4 L346.3 352.3 L347.0 352.5 L347.7 352.4 L348.4 352.1 L349.1 351.3 L349.8 350.9 L350.6 350.6 L351.3 350.5 L352.0 350.2 L352.7 350.3 L353.4 350.6 L354.1 351.0 L354.8 351.3 L355.6 351.5 L356.3 351.8 L357.0 351.8 L357.7 351.7 L358.4 351.6 L359.1 351.7 L359.8 351.7 L360.6 351.7 L361.3 351.4 L362.0 351.5 L362.7 351.6 L363.4 351.8 L364.1 351.8 L364.8 352.1 L365.5 352.7 L366.3 353.3 L367.0 353.7 L367.7 354.0 L368.4 354.1 L369.1 354.2 L369.8 354.4 L370.5 354.8 L371.3 355.3 L372.0 355.4 L372.7 355.5 L373.4 355.6 L374.1 356.0 L374.8 356.5 L375.5 356.7 L376.3 356.8 L377.0 357.0 L377.7 357.3 L378.4 357.4 L379.1 357.0 L379.8 356.4 L380.5 356.0 L381.3 356.2 L382.0 356.8 L382.7 357.2 L383.4 357.4 L384.1 357.5 L384.8 357.6 L385.5 357.4 L386.3 357.3 L387.0 357.2 L387.7 357.5 L388.4 357.6 L389.1 357.8 L389.8 357.8 L390.5 357.8 L391.3 357.7 L392.0 357.6 L392.7 357.5 L393.4 357.6 L394.1 357.5 L394.8 357.6 L395.5 357.6 L396.3 357.7 L397.0 358.0 L397.7 358.1 L398.4 358.4 L399.1 358.1 L399.8 357.9 L400.5 357.8 L401.2 358.1 L402.0 358.5 L402.7 358.9 L403.4 358.9 L404.1 358.9 L404.8 358.6 L405.5 358.6 L406.2 358.4 L407.0 358.5 L407.7 358.7 L408.4 359.3 L409.1 360.0 L409.8 360.6 L410.5 360.8 L411.2 360.7 L412.0 360.4 L412.7 360.5 L413.4 360.7 L414.1 360.7 L414.8 360.5 L415.5 360.4 L416.2 360.3 L417.0 360.3 L417.7 360.1 L418.4 360.3 L419.1 360.5 L419.8 360.9 L420.5 360.9 L421.2 360.9 L422.0 361.1 L422.7 361.4 L423.4 361.3 L424.1 360.8 L424.8 360.5 L425.5 360.5 L426.2 360.8 L427.0 360.7 L427.7 360.4 L428.4 360.1 L429.1 360.0 L429.8 360.3 L430.5 360.7 L431.2 360.9 L432.0 361.2 L432.7 361.1 L433.4 361.5 L434.1 361.5 L434.8 361.5 L435.5 360.9 L436.2 360.4 L436.9 360.2 L437.7 360.5 L438.4 360.7 L439.1 360.9 L439.8 360.8 L440.5 361.0 L441.2 361.1 L441.9 361.2 L442.7 360.9 L443.4 360.6 L444.1 360.7 L444.8 360.8 L445.5 360.8 L446.2 360.6 L446.9 360.6 L447.7 360.8 L448.4 361.2 L449.1 361.6 L449.8 361.7 L450.5 361.4 L451.2 360.9 L451.9 360.9 L452.7 361.2 L453.4 361.4 L454.1 360.9 L454.8 360.7 L455.5 360.6 L456.2 361.0 L456.9 361.2 L457.7 361.4 L458.4 361.6 L459.1 361.7 L459.8 361.7 L460.5 361.3 L461.2 361.1 L461.9 360.9 L462.7 360.9 L463.4 360.6 L464.1 360.6 L464.8 360.7 L465.5 361.0 L466.2 360.8 L466.9 360.8 L467.7 360.3 L468.4 360.4 L469.1 360.3 L469.8 360.9 L470.5 361.5 L471.2 361.9 L471.9 361.6 L472.6 361.3 L473.4 361.1 L474.1 361.3 L474.8 361.5 L475.5 361.6 L476.2 361.7 L476.9 361.6 L477.6 361.4 L478.4 361.3 L479.1 361.1 L479.8 361.0 L480.5 360.9 L481.2 361.2 L481.9 361.5 L482.6 361.7 L483.4 361.7 L484.1 361.7 L484.8 361.8 L485.5 362.0 L486.2 362.2 L486.9 362.1 L487.6 361.6 L488.4 361.2 L489.1 361.1 L489.8 361.2 L490.5 361.4 L491.2 361.2 L491.9 361.1 L492.6 361.0 L493.4 361.2 L494.1 361.2 L494.8 361.3 L495.5 361.2 L496.2 361.3 L496.9 361.3 L497.6 361.3 L498.4 361.1 L499.1 361.3 L499.8 361.4 L500.5 361.6 L501.2 361.4 L501.9 361.4 L502.6 361.6 L503.4 362.0 L504.1 362.3 L504.8 362.3 L505.5 361.9 L506.2 361.5 L506.9 361.1 L507.6 361.0 L508.3 361.0 L509.1 361.1 L509.8 361.0 L510.5 361.4 L511.2 361.3 L511.9 361.3 L512.6 360.9 L513.3 361.1 L514.1 361.2 L514.8 361.7 L515.5 361.8 L516.2 361.9 L516.9 361.7 L517.6 361.2 L518.3 360.9 L519.1 361.0 L519.8 361.2 L520.5 361.2 L521.2 361.1 L521.9 361.2 L522.6 361.3 L523.3 361.4 L524.1 361.4 L524.8 361.6 L525.5 361.7 L526.2 361.9 L526.9 361.9 L527.6 362.1 L528.3 362.2 L529.1 362.1 L529.8 361.8 L530.5 361.6 L531.2 361.6 L531.9 361.6 L532.6 361.7 L533.3 361.5 L534.1 361.5 L534.8 361.5 L535.5 361.8" fill="none" stroke="#ba00cc" stroke-width="2" stroke-linejoin="round" stroke-linecap="butt"/>
<path d="M42.45 44.2 V383.4 H536.0" fill="none" stroke="#000" stroke-width="1.45" stroke-linejoin="miter"/>
<line x1="71.2" y1="383.4" x2="71.2" y2="386.7" stroke="#000" stroke-width="1.5"/>
<line x1="106.9" y1="383.4" x2="106.9" y2="389.6" stroke="#000" stroke-width="1.5"/>
<line x1="142.6" y1="383.4" x2="142.6" y2="386.7" stroke="#000" stroke-width="1.5"/>
<line x1="178.3" y1="383.4" x2="178.3" y2="389.6" stroke="#000" stroke-width="1.5"/>
<line x1="214.0" y1="383.4" x2="214.0" y2="386.7" stroke="#000" stroke-width="1.5"/>
<line x1="249.7" y1="383.4" x2="249.7" y2="389.6" stroke="#000" stroke-width="1.5"/>
<line x1="285.4" y1="383.4" x2="285.4" y2="386.7" stroke="#000" stroke-width="1.5"/>
<line x1="321.1" y1="383.4" x2="321.1" y2="389.6" stroke="#000" stroke-width="1.5"/>
<line x1="356.8" y1="383.4" x2="356.8" y2="386.7" stroke="#000" stroke-width="1.5"/>
<line x1="392.5" y1="383.4" x2="392.5" y2="389.6" stroke="#000" stroke-width="1.5"/>
<line x1="428.2" y1="383.4" x2="428.2" y2="386.7" stroke="#000" stroke-width="1.5"/>
<line x1="463.9" y1="383.4" x2="463.9" y2="389.6" stroke="#000" stroke-width="1.5"/>
<line x1="499.6" y1="383.4" x2="499.6" y2="386.7" stroke="#000" stroke-width="1.5"/>
<line x1="535.3" y1="383.4" x2="535.3" y2="389.6" stroke="#000" stroke-width="1.5"/>
<text class="t" x="106.6" y="404.5" textLength="22.3" lengthAdjust="spacingAndGlyphs">200</text>
<text class="t" x="178.0" y="404.5" textLength="22.3" lengthAdjust="spacingAndGlyphs">300</text>
<text class="t" x="249.4" y="404.5" textLength="22.3" lengthAdjust="spacingAndGlyphs">400</text>
<text class="t" x="320.8" y="404.5" textLength="22.3" lengthAdjust="spacingAndGlyphs">500</text>
<text class="t" x="392.2" y="404.5" textLength="22.3" lengthAdjust="spacingAndGlyphs">600</text>
<text class="t" x="463.6" y="404.5" textLength="22.3" lengthAdjust="spacingAndGlyphs">700</text>
<text class="t" x="535.0" y="404.5" textLength="22.3" lengthAdjust="spacingAndGlyphs">800</text>
<text class="t" x="142.5" y="41.9" textLength="22.3" lengthAdjust="spacingAndGlyphs">250</text>
<text class="t" x="295.3" y="41.9" textLength="22.3" lengthAdjust="spacingAndGlyphs">464</text>
<text class="t" x="356.7" y="41.9" textLength="22.3" lengthAdjust="spacingAndGlyphs">550</text>
<text class="t" x="392.4" y="41.9" textLength="22.3" lengthAdjust="spacingAndGlyphs">600</text>
<text class="l" x="284.2" y="17.5">F<tspan font-size="10.7px" dy="4.8">2g</tspan></text>
<text class="l" style="font-size:16.2px" x="229.2" y="431.2">Raman shift (cm<tspan font-size="10.7px" dy="-6.2" dx="0.4">−1</tspan><tspan dy="6.2" dx="0.3">)</tspan></text>
<text class="l" style="font-size:16.2px;letter-spacing:0.12px" text-anchor="middle" transform="translate(16.9,209.2) rotate(-90)">Intensity (arb.units)</text>
<rect x="424.6" y="76.4" width="95.8" height="123.7" fill="#fff" stroke="#4a4a4a" stroke-width="0.95"/>
<line x1="426.8" y1="88.2" x2="464.6" y2="88.2" stroke="#ff82c8" stroke-width="1.9"/>
<text class="l" style="font-size:16.3px" x="468.9" y="93.8">x=0</text>
<line x1="426.8" y1="108.3" x2="464.6" y2="108.3" stroke="#ff2222" stroke-width="1.9"/>
<text class="l" style="font-size:16.3px" x="468.9" y="113.9">x=0.05</text>
<line x1="426.8" y1="128.5" x2="464.6" y2="128.5" stroke="#00f000" stroke-width="1.9"/>
<text class="l" style="font-size:16.3px" x="468.9" y="134.1">x=0.10</text>
<line x1="426.8" y1="148.7" x2="464.6" y2="148.7" stroke="#00f0ff" stroke-width="1.9"/>
<text class="l" style="font-size:16.3px" x="468.9" y="154.2">x=0.15</text>
<line x1="426.8" y1="168.8" x2="464.6" y2="168.8" stroke="#0000bc" stroke-width="1.9"/>
<text class="l" style="font-size:16.3px" x="468.9" y="174.4">x=0.20</text>
<line x1="426.8" y1="188.9" x2="464.6" y2="188.9" stroke="#ba00cc" stroke-width="1.9"/>
<text class="l" style="font-size:16.3px" x="468.9" y="194.5">x=0.25</text>
</svg></body></html>
